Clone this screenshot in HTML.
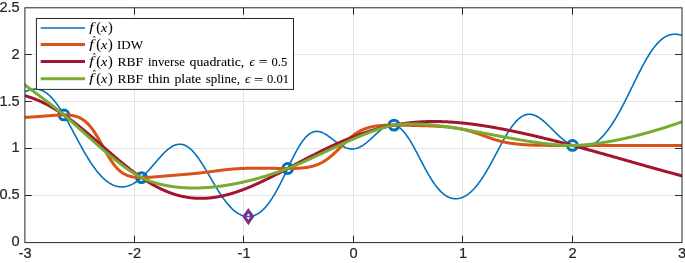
<!DOCTYPE html>
<html><head><meta charset="utf-8"><title>plot</title>
<style>html,body{margin:0;padding:0;background:#fff}svg{display:block}text{font-family:"Liberation Sans",sans-serif;font-size:29.2px;fill:#262626;stroke:#262626;stroke-width:.45px}.m{font-family:"Liberation Serif",serif;font-size:26px;fill:#000;stroke:#000;stroke-width:.12px}.i{font-style:italic}.e{font-size:24px;stroke:none}</style></head><body>
<svg width="685" height="263" viewBox="0 0 685 263">
<rect width="685" height="263" fill="#fff"/>
<path d="M134.5,7.8 V242.6 M243.5,7.8 V242.6 M353.5,7.8 V242.6 M462.5,7.8 V242.6 M572.5,7.8 V242.6 M24.9,195.5 H682.0 M24.9,148.5 H682.0 M24.9,101.5 H682.0 M24.9,54.5 H682.0" stroke="#E4E4E4" stroke-width="1" fill="none"/>
<clipPath id="c"><rect x="24.9" y="7.8" width="657.10" height="234.80"/></clipPath>
<g clip-path="url(#c)" fill="none" stroke-linejoin="round">
<path d="M22.71,92.83 L23.18,92.58 L23.66,92.33 L24.13,92.10 L24.60,91.86 L25.07,91.64 L25.55,91.42 L26.02,91.21 L26.49,91.01 L26.97,90.82 L27.44,90.64 L27.91,90.46 L28.38,90.29 L28.86,90.14 L29.33,89.99 L29.80,89.85 L30.27,89.72 L30.75,89.61 L31.22,89.50 L31.69,89.41 L32.17,89.32 L32.64,89.25 L33.11,89.19 L33.58,89.14 L34.06,89.10 L34.53,89.08 L35.00,89.07 L35.48,89.07 L35.95,89.08 L36.42,89.11 L36.89,89.15 L37.37,89.21 L37.84,89.27 L38.31,89.36 L38.79,89.45 L39.26,89.56 L39.73,89.69 L40.20,89.82 L40.68,89.98 L41.15,90.15 L41.62,90.33 L42.10,90.52 L42.57,90.74 L43.04,90.96 L43.51,91.20 L43.99,91.46 L44.46,91.73 L44.93,92.02 L45.41,92.32 L45.88,92.64 L46.35,92.97 L46.82,93.32 L47.30,93.68 L47.77,94.05 L48.24,94.45 L48.71,94.85 L49.19,95.27 L49.66,95.71 L50.13,96.16 L50.61,96.62 L51.08,97.10 L51.55,97.60 L52.02,98.10 L52.50,98.62 L52.97,99.16 L53.44,99.71 L53.92,100.27 L54.39,100.85 L54.86,101.44 L55.33,102.04 L55.81,102.65 L56.28,103.28 L56.75,103.92 L57.23,104.57 L57.70,105.24 L58.17,105.91 L58.64,106.60 L59.12,107.29 L59.59,108.00 L60.06,108.72 L60.54,109.45 L61.01,110.19 L61.48,110.94 L61.95,111.70 L62.43,112.47 L62.90,113.24 L63.37,114.03 L63.85,114.82 L64.32,115.62 L64.79,116.43 L65.26,117.24 L65.74,118.07 L66.21,118.89 L66.68,119.73 L67.16,120.57 L67.63,121.42 L68.10,122.27 L68.57,123.13 L69.05,123.99 L69.52,124.85 L69.99,125.72 L70.46,126.59 L70.94,127.47 L71.41,128.35 L71.88,129.23 L72.36,130.11 L72.83,130.99 L73.30,131.88 L73.77,132.76 L74.25,133.65 L74.72,134.54 L75.19,135.43 L75.67,136.31 L76.14,137.20 L76.61,138.08 L77.08,138.97 L77.56,139.85 L78.03,140.73 L78.50,141.61 L78.98,142.48 L79.45,143.35 L79.92,144.22 L80.39,145.09 L80.87,145.95 L81.34,146.81 L81.81,147.66 L82.29,148.51 L82.76,149.35 L83.23,150.19 L83.70,151.02 L84.18,151.85 L84.65,152.67 L85.12,153.48 L85.60,154.29 L86.07,155.09 L86.54,155.89 L87.01,156.67 L87.49,157.45 L87.96,158.23 L88.43,158.99 L88.91,159.75 L89.38,160.50 L89.85,161.24 L90.32,161.97 L90.80,162.69 L91.27,163.40 L91.74,164.11 L92.21,164.80 L92.69,165.49 L93.16,166.17 L93.63,166.84 L94.11,167.49 L94.58,168.14 L95.05,168.78 L95.52,169.41 L96.00,170.02 L96.47,170.63 L96.94,171.23 L97.42,171.82 L97.89,172.39 L98.36,172.96 L98.83,173.51 L99.31,174.06 L99.78,174.59 L100.25,175.11 L100.73,175.62 L101.20,176.13 L101.67,176.62 L102.14,177.09 L102.62,177.56 L103.09,178.02 L103.56,178.46 L104.04,178.90 L104.51,179.32 L104.98,179.73 L105.45,180.13 L105.93,180.52 L106.40,180.90 L106.87,181.26 L107.35,181.62 L107.82,181.96 L108.29,182.29 L108.76,182.61 L109.24,182.92 L109.71,183.22 L110.18,183.51 L110.65,183.78 L111.13,184.04 L111.60,184.30 L112.07,184.54 L112.55,184.76 L113.02,184.98 L113.49,185.19 L113.96,185.38 L114.44,185.57 L114.91,185.74 L115.38,185.90 L115.86,186.05 L116.33,186.19 L116.80,186.31 L117.27,186.43 L117.75,186.53 L118.22,186.62 L118.69,186.70 L119.17,186.77 L119.64,186.83 L120.11,186.88 L120.58,186.91 L121.06,186.94 L121.53,186.95 L122.00,186.95 L122.48,186.94 L122.95,186.92 L123.42,186.89 L123.89,186.84 L124.37,186.79 L124.84,186.72 L125.31,186.64 L125.79,186.55 L126.26,186.45 L126.73,186.34 L127.20,186.22 L127.68,186.09 L128.15,185.95 L128.62,185.79 L129.10,185.62 L129.57,185.45 L130.04,185.26 L130.51,185.06 L130.99,184.85 L131.46,184.63 L131.93,184.40 L132.40,184.16 L132.88,183.91 L133.35,183.65 L133.82,183.38 L134.30,183.09 L134.77,182.80 L135.24,182.50 L135.71,182.19 L136.19,181.86 L136.66,181.53 L137.13,181.19 L137.61,180.84 L138.08,180.48 L138.55,180.11 L139.02,179.73 L139.50,179.34 L139.97,178.94 L140.44,178.54 L140.92,178.13 L141.39,177.70 L141.86,177.27 L142.33,176.84 L142.81,176.39 L143.28,175.94 L143.75,175.47 L144.23,175.01 L144.70,174.53 L145.17,174.05 L145.64,173.56 L146.12,173.07 L146.59,172.57 L147.06,172.06 L147.54,171.55 L148.01,171.04 L148.48,170.52 L148.95,169.99 L149.43,169.46 L149.90,168.93 L150.37,168.39 L150.84,167.86 L151.32,167.31 L151.79,166.77 L152.26,166.22 L152.74,165.67 L153.21,165.12 L153.68,164.57 L154.15,164.02 L154.63,163.46 L155.10,162.91 L155.57,162.36 L156.05,161.81 L156.52,161.26 L156.99,160.71 L157.46,160.16 L157.94,159.62 L158.41,159.08 L158.88,158.54 L159.36,158.00 L159.83,157.47 L160.30,156.95 L160.77,156.43 L161.25,155.91 L161.72,155.40 L162.19,154.90 L162.67,154.40 L163.14,153.91 L163.61,153.43 L164.08,152.95 L164.56,152.49 L165.03,152.03 L165.50,151.58 L165.98,151.14 L166.45,150.71 L166.92,150.29 L167.39,149.88 L167.87,149.49 L168.34,149.10 L168.81,148.73 L169.29,148.37 L169.76,148.02 L170.23,147.68 L170.70,147.36 L171.18,147.06 L171.65,146.76 L172.12,146.48 L172.59,146.22 L173.07,145.97 L173.54,145.73 L174.01,145.51 L174.49,145.31 L174.96,145.13 L175.43,144.96 L175.90,144.80 L176.38,144.67 L176.85,144.55 L177.32,144.45 L177.80,144.36 L178.27,144.30 L178.74,144.25 L179.21,144.22 L179.69,144.21 L180.16,144.21 L180.63,144.24 L181.11,144.28 L181.58,144.34 L182.05,144.43 L182.52,144.53 L183.00,144.64 L183.47,144.78 L183.94,144.94 L184.42,145.11 L184.89,145.31 L185.36,145.52 L185.83,145.75 L186.31,146.00 L186.78,146.27 L187.25,146.56 L187.73,146.87 L188.20,147.19 L188.67,147.53 L189.14,147.89 L189.62,148.27 L190.09,148.67 L190.56,149.08 L191.03,149.51 L191.51,149.96 L191.98,150.42 L192.45,150.90 L192.93,151.40 L193.40,151.91 L193.87,152.44 L194.34,152.98 L194.82,153.54 L195.29,154.11 L195.76,154.70 L196.24,155.30 L196.71,155.91 L197.18,156.54 L197.65,157.18 L198.13,157.83 L198.60,158.49 L199.07,159.17 L199.55,159.86 L200.02,160.55 L200.49,161.26 L200.96,161.98 L201.44,162.70 L201.91,163.44 L202.38,164.18 L202.86,164.93 L203.33,165.69 L203.80,166.45 L204.27,167.23 L204.75,168.00 L205.22,168.79 L205.69,169.58 L206.17,170.37 L206.64,171.17 L207.11,171.97 L207.58,172.77 L208.06,173.58 L208.53,174.39 L209.00,175.20 L209.48,176.01 L209.95,176.82 L210.42,177.63 L210.89,178.44 L211.37,179.26 L211.84,180.07 L212.31,180.88 L212.78,181.68 L213.26,182.49 L213.73,183.29 L214.20,184.09 L214.68,184.88 L215.15,185.68 L215.62,186.46 L216.09,187.24 L216.57,188.02 L217.04,188.79 L217.51,189.56 L217.99,190.32 L218.46,191.07 L218.93,191.81 L219.40,192.55 L219.88,193.28 L220.35,194.00 L220.82,194.72 L221.30,195.42 L221.77,196.12 L222.24,196.81 L222.71,197.49 L223.19,198.16 L223.66,198.82 L224.13,199.47 L224.61,200.10 L225.08,200.73 L225.55,201.35 L226.02,201.96 L226.50,202.56 L226.97,203.14 L227.44,203.71 L227.92,204.28 L228.39,204.83 L228.86,205.37 L229.33,205.89 L229.81,206.41 L230.28,206.91 L230.75,207.40 L231.23,207.88 L231.70,208.35 L232.17,208.80 L232.64,209.25 L233.12,209.67 L233.59,210.09 L234.06,210.49 L234.53,210.89 L235.01,211.26 L235.48,211.63 L235.95,211.98 L236.43,212.32 L236.90,212.65 L237.37,212.96 L237.84,213.26 L238.32,213.55 L238.79,213.83 L239.26,214.09 L239.74,214.34 L240.21,214.57 L240.68,214.79 L241.15,215.00 L241.63,215.20 L242.10,215.38 L242.57,215.55 L243.05,215.71 L243.52,215.85 L243.99,215.98 L244.46,216.10 L244.94,216.20 L245.41,216.29 L245.88,216.37 L246.36,216.43 L246.83,216.48 L247.30,216.52 L247.77,216.54 L248.25,216.55 L248.72,216.54 L249.19,216.53 L249.67,216.50 L250.14,216.45 L250.61,216.39 L251.08,216.32 L251.56,216.23 L252.03,216.13 L252.50,216.02 L252.97,215.89 L253.45,215.75 L253.92,215.59 L254.39,215.42 L254.87,215.23 L255.34,215.03 L255.81,214.82 L256.28,214.59 L256.76,214.35 L257.23,214.09 L257.70,213.82 L258.18,213.53 L258.65,213.23 L259.12,212.91 L259.59,212.58 L260.07,212.23 L260.54,211.87 L261.01,211.50 L261.49,211.10 L261.96,210.70 L262.43,210.27 L262.90,209.84 L263.38,209.38 L263.85,208.92 L264.32,208.43 L264.80,207.93 L265.27,207.42 L265.74,206.89 L266.21,206.35 L266.69,205.79 L267.16,205.21 L267.63,204.62 L268.11,204.02 L268.58,203.40 L269.05,202.76 L269.52,202.11 L270.00,201.45 L270.47,200.77 L270.94,200.07 L271.42,199.37 L271.89,198.65 L272.36,197.91 L272.83,197.16 L273.31,196.40 L273.78,195.62 L274.25,194.83 L274.72,194.03 L275.20,193.22 L275.67,192.39 L276.14,191.55 L276.62,190.70 L277.09,189.84 L277.56,188.97 L278.03,188.09 L278.51,187.20 L278.98,186.29 L279.45,185.38 L279.93,184.46 L280.40,183.53 L280.87,182.60 L281.34,181.65 L281.82,180.70 L282.29,179.75 L282.76,178.78 L283.24,177.81 L283.71,176.84 L284.18,175.86 L284.65,174.88 L285.13,173.90 L285.60,172.91 L286.07,171.92 L286.55,170.93 L287.02,169.94 L287.49,168.95 L287.96,167.96 L288.44,166.97 L288.91,165.98 L289.38,165.00 L289.86,164.01 L290.33,163.04 L290.80,162.06 L291.27,161.10 L291.75,160.13 L292.22,159.18 L292.69,158.23 L293.16,157.29 L293.64,156.36 L294.11,155.43 L294.58,154.52 L295.06,153.62 L295.53,152.73 L296.00,151.85 L296.47,150.98 L296.95,150.12 L297.42,149.28 L297.89,148.46 L298.37,147.64 L298.84,146.85 L299.31,146.07 L299.78,145.30 L300.26,144.55 L300.73,143.82 L301.20,143.11 L301.68,142.42 L302.15,141.74 L302.62,141.08 L303.09,140.45 L303.57,139.83 L304.04,139.23 L304.51,138.66 L304.99,138.10 L305.46,137.57 L305.93,137.05 L306.40,136.56 L306.88,136.09 L307.35,135.65 L307.82,135.22 L308.30,134.82 L308.77,134.44 L309.24,134.08 L309.71,133.74 L310.19,133.43 L310.66,133.14 L311.13,132.87 L311.61,132.63 L312.08,132.41 L312.55,132.20 L313.02,132.03 L313.50,131.87 L313.97,131.73 L314.44,131.62 L314.91,131.53 L315.39,131.46 L315.86,131.41 L316.33,131.38 L316.81,131.37 L317.28,131.38 L317.75,131.41 L318.22,131.46 L318.70,131.52 L319.17,131.61 L319.64,131.71 L320.12,131.83 L320.59,131.97 L321.06,132.12 L321.53,132.29 L322.01,132.47 L322.48,132.67 L322.95,132.89 L323.43,133.11 L323.90,133.35 L324.37,133.60 L324.84,133.86 L325.32,134.14 L325.79,134.42 L326.26,134.72 L326.74,135.02 L327.21,135.33 L327.68,135.65 L328.15,135.98 L328.63,136.31 L329.10,136.65 L329.57,136.99 L330.05,137.34 L330.52,137.70 L330.99,138.05 L331.46,138.41 L331.94,138.77 L332.41,139.14 L332.88,139.50 L333.35,139.87 L333.83,140.23 L334.30,140.59 L334.77,140.96 L335.25,141.32 L335.72,141.67 L336.19,142.03 L336.66,142.38 L337.14,142.72 L337.61,143.06 L338.08,143.40 L338.56,143.73 L339.03,144.05 L339.50,144.36 L339.97,144.67 L340.45,144.97 L340.92,145.27 L341.39,145.55 L341.87,145.83 L342.34,146.09 L342.81,146.35 L343.28,146.59 L343.76,146.83 L344.23,147.05 L344.70,147.26 L345.18,147.46 L345.65,147.65 L346.12,147.83 L346.59,147.99 L347.07,148.15 L347.54,148.29 L348.01,148.41 L348.49,148.53 L348.96,148.63 L349.43,148.71 L349.90,148.78 L350.38,148.84 L350.85,148.89 L351.32,148.92 L351.80,148.93 L352.27,148.94 L352.74,148.92 L353.21,148.90 L353.69,148.86 L354.16,148.80 L354.63,148.73 L355.10,148.65 L355.58,148.55 L356.05,148.44 L356.52,148.32 L357.00,148.18 L357.47,148.02 L357.94,147.86 L358.41,147.67 L358.89,147.48 L359.36,147.27 L359.83,147.05 L360.31,146.82 L360.78,146.57 L361.25,146.31 L361.72,146.04 L362.20,145.76 L362.67,145.47 L363.14,145.16 L363.62,144.85 L364.09,144.52 L364.56,144.18 L365.03,143.84 L365.51,143.48 L365.98,143.12 L366.45,142.74 L366.93,142.36 L367.40,141.97 L367.87,141.57 L368.34,141.17 L368.82,140.76 L369.29,140.34 L369.76,139.92 L370.24,139.50 L370.71,139.07 L371.18,138.63 L371.65,138.19 L372.13,137.75 L372.60,137.31 L373.07,136.87 L373.55,136.42 L374.02,135.97 L374.49,135.53 L374.96,135.09 L375.44,134.64 L375.91,134.20 L376.38,133.76 L376.85,133.33 L377.33,132.90 L377.80,132.47 L378.27,132.05 L378.75,131.64 L379.22,131.23 L379.69,130.83 L380.16,130.44 L380.64,130.05 L381.11,129.68 L381.58,129.31 L382.06,128.96 L382.53,128.61 L383.00,128.28 L383.47,127.96 L383.95,127.65 L384.42,127.36 L384.89,127.08 L385.37,126.82 L385.84,126.57 L386.31,126.33 L386.78,126.11 L387.26,125.91 L387.73,125.73 L388.20,125.56 L388.68,125.42 L389.15,125.29 L389.62,125.18 L390.09,125.08 L390.57,125.01 L391.04,124.96 L391.51,124.93 L391.99,124.92 L392.46,124.93 L392.93,124.96 L393.40,125.02 L393.88,125.09 L394.35,125.19 L394.82,125.31 L395.29,125.45 L395.77,125.62 L396.24,125.80 L396.71,126.01 L397.19,126.24 L397.66,126.50 L398.13,126.77 L398.60,127.07 L399.08,127.40 L399.55,127.74 L400.02,128.11 L400.50,128.49 L400.97,128.90 L401.44,129.34 L401.91,129.79 L402.39,130.26 L402.86,130.76 L403.33,131.27 L403.81,131.81 L404.28,132.37 L404.75,132.94 L405.22,133.54 L405.70,134.15 L406.17,134.78 L406.64,135.43 L407.12,136.10 L407.59,136.78 L408.06,137.48 L408.53,138.20 L409.01,138.93 L409.48,139.67 L409.95,140.43 L410.43,141.21 L410.90,141.99 L411.37,142.79 L411.84,143.60 L412.32,144.42 L412.79,145.26 L413.26,146.10 L413.74,146.95 L414.21,147.81 L414.68,148.68 L415.15,149.55 L415.63,150.43 L416.10,151.32 L416.57,152.21 L417.04,153.11 L417.52,154.01 L417.99,154.91 L418.46,155.82 L418.94,156.73 L419.41,157.64 L419.88,158.55 L420.35,159.46 L420.83,160.36 L421.30,161.27 L421.77,162.18 L422.25,163.08 L422.72,163.98 L423.19,164.88 L423.66,165.77 L424.14,166.66 L424.61,167.54 L425.08,168.42 L425.56,169.29 L426.03,170.15 L426.50,171.01 L426.97,171.85 L427.45,172.69 L427.92,173.52 L428.39,174.34 L428.87,175.15 L429.34,175.96 L429.81,176.75 L430.28,177.53 L430.76,178.29 L431.23,179.05 L431.70,179.80 L432.18,180.53 L432.65,181.25 L433.12,181.96 L433.59,182.65 L434.07,183.33 L434.54,184.00 L435.01,184.66 L435.48,185.30 L435.96,185.92 L436.43,186.54 L436.90,187.13 L437.38,187.72 L437.85,188.28 L438.32,188.84 L438.79,189.38 L439.27,189.90 L439.74,190.41 L440.21,190.90 L440.69,191.38 L441.16,191.85 L441.63,192.29 L442.10,192.73 L442.58,193.14 L443.05,193.55 L443.52,193.93 L444.00,194.31 L444.47,194.66 L444.94,195.00 L445.41,195.33 L445.89,195.64 L446.36,195.94 L446.83,196.22 L447.31,196.48 L447.78,196.73 L448.25,196.97 L448.72,197.19 L449.20,197.40 L449.67,197.59 L450.14,197.76 L450.62,197.93 L451.09,198.07 L451.56,198.21 L452.03,198.32 L452.51,198.43 L452.98,198.52 L453.45,198.59 L453.93,198.66 L454.40,198.70 L454.87,198.74 L455.34,198.76 L455.82,198.76 L456.29,198.75 L456.76,198.73 L457.23,198.69 L457.71,198.64 L458.18,198.58 L458.65,198.50 L459.13,198.41 L459.60,198.31 L460.07,198.19 L460.54,198.06 L461.02,197.92 L461.49,197.76 L461.96,197.59 L462.44,197.40 L462.91,197.21 L463.38,196.99 L463.85,196.77 L464.33,196.53 L464.80,196.28 L465.27,196.02 L465.75,195.74 L466.22,195.45 L466.69,195.15 L467.16,194.83 L467.64,194.50 L468.11,194.16 L468.58,193.80 L469.06,193.43 L469.53,193.05 L470.00,192.66 L470.47,192.25 L470.95,191.83 L471.42,191.40 L471.89,190.95 L472.37,190.49 L472.84,190.02 L473.31,189.53 L473.78,189.04 L474.26,188.53 L474.73,188.00 L475.20,187.47 L475.67,186.92 L476.15,186.36 L476.62,185.79 L477.09,185.20 L477.57,184.61 L478.04,184.00 L478.51,183.38 L478.98,182.75 L479.46,182.10 L479.93,181.45 L480.40,180.78 L480.88,180.10 L481.35,179.41 L481.82,178.72 L482.29,178.01 L482.77,177.29 L483.24,176.55 L483.71,175.81 L484.19,175.06 L484.66,174.30 L485.13,173.54 L485.60,172.76 L486.08,171.97 L486.55,171.17 L487.02,170.37 L487.50,169.56 L487.97,168.74 L488.44,167.91 L488.91,167.08 L489.39,166.24 L489.86,165.39 L490.33,164.54 L490.81,163.68 L491.28,162.82 L491.75,161.95 L492.22,161.08 L492.70,160.21 L493.17,159.33 L493.64,158.44 L494.12,157.56 L494.59,156.67 L495.06,155.78 L495.53,154.89 L496.01,153.99 L496.48,153.10 L496.95,152.21 L497.42,151.31 L497.90,150.42 L498.37,149.53 L498.84,148.64 L499.32,147.75 L499.79,146.87 L500.26,145.98 L500.73,145.11 L501.21,144.23 L501.68,143.36 L502.15,142.50 L502.63,141.64 L503.10,140.79 L503.57,139.94 L504.04,139.10 L504.52,138.27 L504.99,137.44 L505.46,136.63 L505.94,135.82 L506.41,135.02 L506.88,134.24 L507.35,133.46 L507.83,132.69 L508.30,131.93 L508.77,131.19 L509.25,130.46 L509.72,129.74 L510.19,129.03 L510.66,128.33 L511.14,127.65 L511.61,126.98 L512.08,126.33 L512.56,125.69 L513.03,125.07 L513.50,124.46 L513.97,123.87 L514.45,123.29 L514.92,122.73 L515.39,122.18 L515.87,121.65 L516.34,121.14 L516.81,120.65 L517.28,120.17 L517.76,119.71 L518.23,119.27 L518.70,118.85 L519.17,118.44 L519.65,118.06 L520.12,117.69 L520.59,117.34 L521.07,117.00 L521.54,116.69 L522.01,116.40 L522.48,116.12 L522.96,115.87 L523.43,115.63 L523.90,115.41 L524.38,115.21 L524.85,115.03 L525.32,114.87 L525.79,114.72 L526.27,114.60 L526.74,114.49 L527.21,114.40 L527.69,114.33 L528.16,114.28 L528.63,114.25 L529.10,114.23 L529.58,114.24 L530.05,114.26 L530.52,114.30 L531.00,114.35 L531.47,114.42 L531.94,114.51 L532.41,114.62 L532.89,114.74 L533.36,114.88 L533.83,115.03 L534.31,115.20 L534.78,115.38 L535.25,115.58 L535.72,115.79 L536.20,116.02 L536.67,116.26 L537.14,116.51 L537.61,116.78 L538.09,117.06 L538.56,117.35 L539.03,117.66 L539.51,117.97 L539.98,118.30 L540.45,118.64 L540.92,118.99 L541.40,119.34 L541.87,119.71 L542.34,120.09 L542.82,120.47 L543.29,120.87 L543.76,121.27 L544.23,121.68 L544.71,122.09 L545.18,122.52 L545.65,122.94 L546.13,123.38 L546.60,123.82 L547.07,124.26 L547.54,124.71 L548.02,125.17 L548.49,125.62 L548.96,126.08 L549.44,126.55 L549.91,127.01 L550.38,127.48 L550.85,127.95 L551.33,128.42 L551.80,128.89 L552.27,129.36 L552.75,129.83 L553.22,130.31 L553.69,130.78 L554.16,131.25 L554.64,131.71 L555.11,132.18 L555.58,132.64 L556.06,133.10 L556.53,133.56 L557.00,134.02 L557.47,134.47 L557.95,134.92 L558.42,135.36 L558.89,135.80 L559.36,136.24 L559.84,136.67 L560.31,137.09 L560.78,137.51 L561.26,137.92 L561.73,138.33 L562.20,138.73 L562.67,139.12 L563.15,139.51 L563.62,139.89 L564.09,140.26 L564.57,140.63 L565.04,140.98 L565.51,141.33 L565.98,141.67 L566.46,142.01 L566.93,142.33 L567.40,142.65 L567.88,142.95 L568.35,143.25 L568.82,143.54 L569.29,143.82 L569.77,144.09 L570.24,144.35 L570.71,144.60 L571.19,144.84 L571.66,145.07 L572.13,145.29 L572.60,145.51 L573.08,145.71 L573.55,145.90 L574.02,146.08 L574.50,146.25 L574.97,146.41 L575.44,146.56 L575.91,146.70 L576.39,146.82 L576.86,146.94 L577.33,147.05 L577.80,147.14 L578.28,147.23 L578.75,147.30 L579.22,147.36 L579.70,147.42 L580.17,147.46 L580.64,147.49 L581.11,147.51 L581.59,147.51 L582.06,147.51 L582.53,147.49 L583.01,147.47 L583.48,147.43 L583.95,147.38 L584.42,147.32 L584.90,147.25 L585.37,147.17 L585.84,147.08 L586.32,146.97 L586.79,146.85 L587.26,146.73 L587.73,146.59 L588.21,146.44 L588.68,146.28 L589.15,146.10 L589.63,145.92 L590.10,145.72 L590.57,145.51 L591.04,145.30 L591.52,145.07 L591.99,144.82 L592.46,144.57 L592.94,144.31 L593.41,144.03 L593.88,143.74 L594.35,143.45 L594.83,143.14 L595.30,142.81 L595.77,142.48 L596.25,142.14 L596.72,141.78 L597.19,141.41 L597.66,141.03 L598.14,140.64 L598.61,140.24 L599.08,139.83 L599.55,139.41 L600.03,138.97 L600.50,138.52 L600.97,138.06 L601.45,137.59 L601.92,137.11 L602.39,136.62 L602.86,136.12 L603.34,135.60 L603.81,135.08 L604.28,134.54 L604.76,133.99 L605.23,133.43 L605.70,132.86 L606.17,132.28 L606.65,131.69 L607.12,131.08 L607.59,130.47 L608.07,129.84 L608.54,129.21 L609.01,128.56 L609.48,127.90 L609.96,127.23 L610.43,126.56 L610.90,125.87 L611.38,125.17 L611.85,124.46 L612.32,123.74 L612.79,123.01 L613.27,122.27 L613.74,121.52 L614.21,120.77 L614.69,120.00 L615.16,119.22 L615.63,118.44 L616.10,117.64 L616.58,116.84 L617.05,116.02 L617.52,115.20 L617.99,114.37 L618.47,113.54 L618.94,112.69 L619.41,111.84 L619.89,110.98 L620.36,110.11 L620.83,109.23 L621.30,108.35 L621.78,107.46 L622.25,106.56 L622.72,105.66 L623.20,104.76 L623.67,103.84 L624.14,102.92 L624.61,102.00 L625.09,101.07 L625.56,100.13 L626.03,99.20 L626.51,98.25 L626.98,97.31 L627.45,96.36 L627.92,95.40 L628.40,94.45 L628.87,93.49 L629.34,92.53 L629.82,91.57 L630.29,90.60 L630.76,89.63 L631.23,88.67 L631.71,87.70 L632.18,86.73 L632.65,85.76 L633.13,84.79 L633.60,83.83 L634.07,82.86 L634.54,81.90 L635.02,80.93 L635.49,79.97 L635.96,79.01 L636.44,78.06 L636.91,77.10 L637.38,76.15 L637.85,75.21 L638.33,74.26 L638.80,73.33 L639.27,72.39 L639.74,71.47 L640.22,70.54 L640.69,69.63 L641.16,68.72 L641.64,67.81 L642.11,66.92 L642.58,66.03 L643.05,65.15 L643.53,64.27 L644.00,63.41 L644.47,62.55 L644.95,61.70 L645.42,60.86 L645.89,60.03 L646.36,59.21 L646.84,58.40 L647.31,57.60 L647.78,56.81 L648.26,56.03 L648.73,55.27 L649.20,54.51 L649.67,53.76 L650.15,53.03 L650.62,52.31 L651.09,51.60 L651.57,50.91 L652.04,50.22 L652.51,49.55 L652.98,48.90 L653.46,48.25 L653.93,47.62 L654.40,47.01 L654.88,46.40 L655.35,45.82 L655.82,45.24 L656.29,44.68 L656.77,44.13 L657.24,43.60 L657.71,43.09 L658.19,42.58 L658.66,42.10 L659.13,41.62 L659.60,41.17 L660.08,40.72 L660.55,40.30 L661.02,39.88 L661.49,39.49 L661.97,39.10 L662.44,38.74 L662.91,38.38 L663.39,38.05 L663.86,37.72 L664.33,37.41 L664.80,37.12 L665.28,36.84 L665.75,36.58 L666.22,36.33 L666.70,36.10 L667.17,35.88 L667.64,35.67 L668.11,35.48 L668.59,35.31 L669.06,35.14 L669.53,34.99 L670.01,34.86 L670.48,34.74 L670.95,34.63 L671.42,34.53 L671.90,34.45 L672.37,34.38 L672.84,34.32 L673.32,34.28 L673.79,34.25 L674.26,34.23 L674.73,34.22 L675.21,34.22 L675.68,34.23 L676.15,34.26 L676.63,34.29 L677.10,34.34 L677.57,34.40 L678.04,34.46 L678.52,34.54 L678.99,34.62 L679.46,34.72 L679.93,34.82 L680.41,34.93 L680.88,35.05 L681.35,35.18 L681.83,35.32 L682.30,35.46 L682.77,35.61 L683.24,35.77 L683.72,35.93 L684.19,36.10" stroke="#0072BD" stroke-width="1.6"/>
<circle cx="63.90" cy="114.91" r="4.9" stroke="#0072BD" stroke-width="3"/>
<circle cx="141.50" cy="177.60" r="4.9" stroke="#0072BD" stroke-width="3"/>
<circle cx="287.70" cy="168.51" r="4.9" stroke="#0072BD" stroke-width="3"/>
<circle cx="394.00" cy="125.12" r="4.9" stroke="#0072BD" stroke-width="3"/>
<circle cx="572.50" cy="145.46" r="4.9" stroke="#0072BD" stroke-width="3"/>
<path d="M248.34,210.65 L252.44,216.55 L248.34,222.45 L244.24,216.55 Z" stroke="#7E2F8E" stroke-width="3.1" stroke-linejoin="miter"/>
<path d="M22.71,117.48 L23.18,117.46 L23.66,117.44 L24.13,117.42 L24.60,117.39 L25.07,117.37 L25.55,117.34 L26.02,117.32 L26.49,117.30 L26.97,117.27 L27.44,117.24 L27.91,117.22 L28.38,117.19 L28.86,117.16 L29.33,117.14 L29.80,117.11 L30.27,117.08 L30.75,117.05 L31.22,117.02 L31.69,117.00 L32.17,116.97 L32.64,116.94 L33.11,116.91 L33.58,116.87 L34.06,116.84 L34.53,116.81 L35.00,116.78 L35.48,116.75 L35.95,116.71 L36.42,116.68 L36.89,116.65 L37.37,116.61 L37.84,116.58 L38.31,116.55 L38.79,116.51 L39.26,116.48 L39.73,116.44 L40.20,116.41 L40.68,116.37 L41.15,116.33 L41.62,116.30 L42.10,116.26 L42.57,116.22 L43.04,116.19 L43.51,116.15 L43.99,116.11 L44.46,116.08 L44.93,116.04 L45.41,116.00 L45.88,115.96 L46.35,115.93 L46.82,115.89 L47.30,115.85 L47.77,115.81 L48.24,115.77 L48.71,115.74 L49.19,115.70 L49.66,115.66 L50.13,115.63 L50.61,115.59 L51.08,115.55 L51.55,115.52 L52.02,115.48 L52.50,115.45 L52.97,115.41 L53.44,115.38 L53.92,115.34 L54.39,115.31 L54.86,115.28 L55.33,115.25 L55.81,115.22 L56.28,115.19 L56.75,115.16 L57.23,115.13 L57.70,115.10 L58.17,115.08 L58.64,115.05 L59.12,115.03 L59.59,115.01 L60.06,114.99 L60.54,114.97 L61.01,114.96 L61.48,114.94 L61.95,114.93 L62.43,114.92 L62.90,114.92 L63.37,114.91 L63.85,114.91 L64.32,114.91 L64.79,114.92 L65.26,114.92 L65.74,114.93 L66.21,114.95 L66.68,114.97 L67.16,114.99 L67.63,115.01 L68.10,115.04 L68.57,115.08 L69.05,115.12 L69.52,115.16 L69.99,115.21 L70.46,115.26 L70.94,115.32 L71.41,115.39 L71.88,115.46 L72.36,115.54 L72.83,115.62 L73.30,115.72 L73.77,115.82 L74.25,115.92 L74.72,116.04 L75.19,116.16 L75.67,116.30 L76.14,116.44 L76.61,116.59 L77.08,116.75 L77.56,116.92 L78.03,117.10 L78.50,117.29 L78.98,117.49 L79.45,117.70 L79.92,117.93 L80.39,118.17 L80.87,118.41 L81.34,118.68 L81.81,118.95 L82.29,119.24 L82.76,119.55 L83.23,119.86 L83.70,120.20 L84.18,120.54 L84.65,120.91 L85.12,121.29 L85.60,121.68 L86.07,122.09 L86.54,122.52 L87.01,122.96 L87.49,123.42 L87.96,123.90 L88.43,124.39 L88.91,124.90 L89.38,125.43 L89.85,125.98 L90.32,126.54 L90.80,127.12 L91.27,127.72 L91.74,128.33 L92.21,128.96 L92.69,129.61 L93.16,130.28 L93.63,130.96 L94.11,131.65 L94.58,132.37 L95.05,133.09 L95.52,133.83 L96.00,134.59 L96.47,135.35 L96.94,136.13 L97.42,136.92 L97.89,137.72 L98.36,138.54 L98.83,139.36 L99.31,140.19 L99.78,141.02 L100.25,141.86 L100.73,142.71 L101.20,143.57 L101.67,144.42 L102.14,145.28 L102.62,146.14 L103.09,147.00 L103.56,147.85 L104.04,148.71 L104.51,149.56 L104.98,150.41 L105.45,151.26 L105.93,152.09 L106.40,152.93 L106.87,153.75 L107.35,154.56 L107.82,155.37 L108.29,156.16 L108.76,156.94 L109.24,157.71 L109.71,158.47 L110.18,159.21 L110.65,159.94 L111.13,160.66 L111.60,161.36 L112.07,162.04 L112.55,162.71 L113.02,163.36 L113.49,164.00 L113.96,164.61 L114.44,165.22 L114.91,165.80 L115.38,166.37 L115.86,166.92 L116.33,167.45 L116.80,167.97 L117.27,168.47 L117.75,168.95 L118.22,169.41 L118.69,169.86 L119.17,170.29 L119.64,170.70 L120.11,171.10 L120.58,171.49 L121.06,171.85 L121.53,172.20 L122.00,172.54 L122.48,172.86 L122.95,173.17 L123.42,173.46 L123.89,173.74 L124.37,174.01 L124.84,174.26 L125.31,174.51 L125.79,174.73 L126.26,174.95 L126.73,175.16 L127.20,175.35 L127.68,175.53 L128.15,175.71 L128.62,175.87 L129.10,176.02 L129.57,176.17 L130.04,176.30 L130.51,176.43 L130.99,176.55 L131.46,176.66 L131.93,176.76 L132.40,176.86 L132.88,176.94 L133.35,177.02 L133.82,177.10 L134.30,177.17 L134.77,177.23 L135.24,177.29 L135.71,177.34 L136.19,177.38 L136.66,177.42 L137.13,177.46 L137.61,177.49 L138.08,177.52 L138.55,177.54 L139.02,177.56 L139.50,177.58 L139.97,177.59 L140.44,177.60 L140.92,177.60 L141.39,177.60 L141.86,177.60 L142.33,177.60 L142.81,177.59 L143.28,177.58 L143.75,177.57 L144.23,177.56 L144.70,177.54 L145.17,177.53 L145.64,177.51 L146.12,177.49 L146.59,177.47 L147.06,177.44 L147.54,177.42 L148.01,177.39 L148.48,177.36 L148.95,177.33 L149.43,177.30 L149.90,177.27 L150.37,177.24 L150.84,177.21 L151.32,177.17 L151.79,177.14 L152.26,177.10 L152.74,177.07 L153.21,177.03 L153.68,176.99 L154.15,176.96 L154.63,176.92 L155.10,176.88 L155.57,176.84 L156.05,176.80 L156.52,176.76 L156.99,176.72 L157.46,176.68 L157.94,176.64 L158.41,176.60 L158.88,176.56 L159.36,176.52 L159.83,176.48 L160.30,176.44 L160.77,176.40 L161.25,176.36 L161.72,176.32 L162.19,176.28 L162.67,176.24 L163.14,176.20 L163.61,176.16 L164.08,176.12 L164.56,176.08 L165.03,176.04 L165.50,176.00 L165.98,175.96 L166.45,175.91 L166.92,175.87 L167.39,175.83 L167.87,175.79 L168.34,175.75 L168.81,175.71 L169.29,175.68 L169.76,175.64 L170.23,175.60 L170.70,175.56 L171.18,175.52 L171.65,175.48 L172.12,175.44 L172.59,175.40 L173.07,175.36 L173.54,175.32 L174.01,175.28 L174.49,175.25 L174.96,175.21 L175.43,175.17 L175.90,175.13 L176.38,175.09 L176.85,175.05 L177.32,175.01 L177.80,174.98 L178.27,174.94 L178.74,174.90 L179.21,174.86 L179.69,174.82 L180.16,174.78 L180.63,174.74 L181.11,174.70 L181.58,174.67 L182.05,174.63 L182.52,174.59 L183.00,174.55 L183.47,174.51 L183.94,174.47 L184.42,174.43 L184.89,174.39 L185.36,174.35 L185.83,174.31 L186.31,174.27 L186.78,174.23 L187.25,174.19 L187.73,174.15 L188.20,174.10 L188.67,174.06 L189.14,174.02 L189.62,173.98 L190.09,173.93 L190.56,173.89 L191.03,173.85 L191.51,173.80 L191.98,173.76 L192.45,173.71 L192.93,173.67 L193.40,173.62 L193.87,173.58 L194.34,173.53 L194.82,173.48 L195.29,173.43 L195.76,173.39 L196.24,173.34 L196.71,173.29 L197.18,173.24 L197.65,173.19 L198.13,173.14 L198.60,173.09 L199.07,173.03 L199.55,172.98 L200.02,172.93 L200.49,172.88 L200.96,172.82 L201.44,172.77 L201.91,172.71 L202.38,172.66 L202.86,172.60 L203.33,172.54 L203.80,172.49 L204.27,172.43 L204.75,172.37 L205.22,172.31 L205.69,172.25 L206.17,172.20 L206.64,172.14 L207.11,172.08 L207.58,172.02 L208.06,171.96 L208.53,171.89 L209.00,171.83 L209.48,171.77 L209.95,171.71 L210.42,171.65 L210.89,171.59 L211.37,171.52 L211.84,171.46 L212.31,171.40 L212.78,171.34 L213.26,171.27 L213.73,171.21 L214.20,171.15 L214.68,171.09 L215.15,171.02 L215.62,170.96 L216.09,170.90 L216.57,170.84 L217.04,170.78 L217.51,170.71 L217.99,170.65 L218.46,170.59 L218.93,170.53 L219.40,170.47 L219.88,170.41 L220.35,170.35 L220.82,170.30 L221.30,170.24 L221.77,170.18 L222.24,170.12 L222.71,170.07 L223.19,170.01 L223.66,169.96 L224.13,169.90 L224.61,169.85 L225.08,169.80 L225.55,169.75 L226.02,169.70 L226.50,169.65 L226.97,169.60 L227.44,169.55 L227.92,169.50 L228.39,169.45 L228.86,169.41 L229.33,169.36 L229.81,169.32 L230.28,169.27 L230.75,169.23 L231.23,169.19 L231.70,169.15 L232.17,169.11 L232.64,169.07 L233.12,169.03 L233.59,169.00 L234.06,168.96 L234.53,168.93 L235.01,168.89 L235.48,168.86 L235.95,168.83 L236.43,168.80 L236.90,168.77 L237.37,168.74 L237.84,168.71 L238.32,168.68 L238.79,168.66 L239.26,168.63 L239.74,168.60 L240.21,168.58 L240.68,168.56 L241.15,168.54 L241.63,168.51 L242.10,168.49 L242.57,168.47 L243.05,168.45 L243.52,168.44 L243.99,168.42 L244.46,168.40 L244.94,168.39 L245.41,168.37 L245.88,168.36 L246.36,168.34 L246.83,168.33 L247.30,168.32 L247.77,168.30 L248.25,168.29 L248.72,168.28 L249.19,168.27 L249.67,168.26 L250.14,168.26 L250.61,168.25 L251.08,168.24 L251.56,168.23 L252.03,168.23 L252.50,168.22 L252.97,168.22 L253.45,168.21 L253.92,168.21 L254.39,168.20 L254.87,168.20 L255.34,168.20 L255.81,168.20 L256.28,168.19 L256.76,168.19 L257.23,168.19 L257.70,168.19 L258.18,168.19 L258.65,168.19 L259.12,168.19 L259.59,168.19 L260.07,168.20 L260.54,168.20 L261.01,168.20 L261.49,168.20 L261.96,168.21 L262.43,168.21 L262.90,168.21 L263.38,168.22 L263.85,168.22 L264.32,168.22 L264.80,168.23 L265.27,168.23 L265.74,168.24 L266.21,168.24 L266.69,168.25 L267.16,168.26 L267.63,168.26 L268.11,168.27 L268.58,168.27 L269.05,168.28 L269.52,168.29 L270.00,168.29 L270.47,168.30 L270.94,168.31 L271.42,168.31 L271.89,168.32 L272.36,168.33 L272.83,168.34 L273.31,168.34 L273.78,168.35 L274.25,168.36 L274.72,168.37 L275.20,168.37 L275.67,168.38 L276.14,168.39 L276.62,168.40 L277.09,168.40 L277.56,168.41 L278.03,168.42 L278.51,168.43 L278.98,168.43 L279.45,168.44 L279.93,168.45 L280.40,168.45 L280.87,168.46 L281.34,168.47 L281.82,168.47 L282.29,168.48 L282.76,168.48 L283.24,168.49 L283.71,168.49 L284.18,168.49 L284.65,168.50 L285.13,168.50 L285.60,168.50 L286.07,168.51 L286.55,168.51 L287.02,168.51 L287.49,168.51 L287.96,168.51 L288.44,168.51 L288.91,168.51 L289.38,168.51 L289.86,168.50 L290.33,168.50 L290.80,168.49 L291.27,168.49 L291.75,168.48 L292.22,168.48 L292.69,168.47 L293.16,168.46 L293.64,168.45 L294.11,168.43 L294.58,168.42 L295.06,168.41 L295.53,168.39 L296.00,168.37 L296.47,168.35 L296.95,168.33 L297.42,168.31 L297.89,168.29 L298.37,168.26 L298.84,168.23 L299.31,168.21 L299.78,168.17 L300.26,168.14 L300.73,168.10 L301.20,168.07 L301.68,168.03 L302.15,167.98 L302.62,167.94 L303.09,167.89 L303.57,167.84 L304.04,167.79 L304.51,167.73 L304.99,167.67 L305.46,167.61 L305.93,167.54 L306.40,167.47 L306.88,167.40 L307.35,167.32 L307.82,167.24 L308.30,167.16 L308.77,167.07 L309.24,166.98 L309.71,166.88 L310.19,166.78 L310.66,166.68 L311.13,166.57 L311.61,166.46 L312.08,166.34 L312.55,166.21 L313.02,166.08 L313.50,165.95 L313.97,165.81 L314.44,165.66 L314.91,165.51 L315.39,165.35 L315.86,165.19 L316.33,165.02 L316.81,164.85 L317.28,164.66 L317.75,164.48 L318.22,164.28 L318.70,164.08 L319.17,163.87 L319.64,163.66 L320.12,163.43 L320.59,163.20 L321.06,162.97 L321.53,162.72 L322.01,162.47 L322.48,162.21 L322.95,161.94 L323.43,161.67 L323.90,161.39 L324.37,161.10 L324.84,160.80 L325.32,160.49 L325.79,160.18 L326.26,159.86 L326.74,159.53 L327.21,159.19 L327.68,158.85 L328.15,158.50 L328.63,158.14 L329.10,157.77 L329.57,157.40 L330.05,157.02 L330.52,156.63 L330.99,156.23 L331.46,155.83 L331.94,155.42 L332.41,155.01 L332.88,154.59 L333.35,154.16 L333.83,153.73 L334.30,153.29 L334.77,152.85 L335.25,152.40 L335.72,151.95 L336.19,151.50 L336.66,151.04 L337.14,150.57 L337.61,150.11 L338.08,149.64 L338.56,149.17 L339.03,148.69 L339.50,148.22 L339.97,147.74 L340.45,147.27 L340.92,146.79 L341.39,146.31 L341.87,145.84 L342.34,145.36 L342.81,144.89 L343.28,144.41 L343.76,143.94 L344.23,143.48 L344.70,143.01 L345.18,142.55 L345.65,142.09 L346.12,141.63 L346.59,141.18 L347.07,140.73 L347.54,140.29 L348.01,139.86 L348.49,139.42 L348.96,139.00 L349.43,138.58 L349.90,138.16 L350.38,137.76 L350.85,137.36 L351.32,136.96 L351.80,136.57 L352.27,136.19 L352.74,135.82 L353.21,135.46 L353.69,135.10 L354.16,134.75 L354.63,134.40 L355.10,134.07 L355.58,133.74 L356.05,133.42 L356.52,133.11 L357.00,132.80 L357.47,132.51 L357.94,132.22 L358.41,131.94 L358.89,131.66 L359.36,131.40 L359.83,131.14 L360.31,130.89 L360.78,130.64 L361.25,130.41 L361.72,130.18 L362.20,129.96 L362.67,129.74 L363.14,129.53 L363.62,129.33 L364.09,129.14 L364.56,128.95 L365.03,128.77 L365.51,128.60 L365.98,128.43 L366.45,128.26 L366.93,128.11 L367.40,127.96 L367.87,127.81 L368.34,127.67 L368.82,127.54 L369.29,127.41 L369.76,127.29 L370.24,127.17 L370.71,127.05 L371.18,126.94 L371.65,126.84 L372.13,126.74 L372.60,126.64 L373.07,126.55 L373.55,126.47 L374.02,126.38 L374.49,126.30 L374.96,126.23 L375.44,126.15 L375.91,126.08 L376.38,126.02 L376.85,125.96 L377.33,125.90 L377.80,125.84 L378.27,125.79 L378.75,125.74 L379.22,125.69 L379.69,125.64 L380.16,125.60 L380.64,125.56 L381.11,125.52 L381.58,125.49 L382.06,125.45 L382.53,125.42 L383.00,125.39 L383.47,125.36 L383.95,125.34 L384.42,125.31 L384.89,125.29 L385.37,125.27 L385.84,125.25 L386.31,125.24 L386.78,125.22 L387.26,125.20 L387.73,125.19 L388.20,125.18 L388.68,125.17 L389.15,125.16 L389.62,125.15 L390.09,125.14 L390.57,125.14 L391.04,125.13 L391.51,125.13 L391.99,125.12 L392.46,125.12 L392.93,125.12 L393.40,125.12 L393.88,125.12 L394.35,125.12 L394.82,125.12 L395.29,125.12 L395.77,125.12 L396.24,125.12 L396.71,125.13 L397.19,125.13 L397.66,125.13 L398.13,125.14 L398.60,125.14 L399.08,125.15 L399.55,125.16 L400.02,125.16 L400.50,125.17 L400.97,125.18 L401.44,125.18 L401.91,125.19 L402.39,125.20 L402.86,125.21 L403.33,125.21 L403.81,125.22 L404.28,125.23 L404.75,125.24 L405.22,125.25 L405.70,125.26 L406.17,125.27 L406.64,125.28 L407.12,125.29 L407.59,125.30 L408.06,125.31 L408.53,125.32 L409.01,125.33 L409.48,125.34 L409.95,125.35 L410.43,125.36 L410.90,125.38 L411.37,125.39 L411.84,125.40 L412.32,125.41 L412.79,125.42 L413.26,125.43 L413.74,125.45 L414.21,125.46 L414.68,125.47 L415.15,125.48 L415.63,125.49 L416.10,125.51 L416.57,125.52 L417.04,125.53 L417.52,125.54 L417.99,125.56 L418.46,125.57 L418.94,125.58 L419.41,125.60 L419.88,125.61 L420.35,125.62 L420.83,125.63 L421.30,125.65 L421.77,125.66 L422.25,125.68 L422.72,125.69 L423.19,125.70 L423.66,125.72 L424.14,125.73 L424.61,125.75 L425.08,125.76 L425.56,125.78 L426.03,125.79 L426.50,125.81 L426.97,125.83 L427.45,125.84 L427.92,125.86 L428.39,125.87 L428.87,125.89 L429.34,125.91 L429.81,125.93 L430.28,125.94 L430.76,125.96 L431.23,125.98 L431.70,126.00 L432.18,126.02 L432.65,126.04 L433.12,126.06 L433.59,126.08 L434.07,126.10 L434.54,126.12 L435.01,126.14 L435.48,126.17 L435.96,126.19 L436.43,126.21 L436.90,126.24 L437.38,126.26 L437.85,126.29 L438.32,126.31 L438.79,126.34 L439.27,126.37 L439.74,126.40 L440.21,126.43 L440.69,126.46 L441.16,126.49 L441.63,126.52 L442.10,126.55 L442.58,126.58 L443.05,126.62 L443.52,126.65 L444.00,126.69 L444.47,126.72 L444.94,126.76 L445.41,126.80 L445.89,126.84 L446.36,126.88 L446.83,126.93 L447.31,126.97 L447.78,127.01 L448.25,127.06 L448.72,127.11 L449.20,127.16 L449.67,127.21 L450.14,127.26 L450.62,127.31 L451.09,127.36 L451.56,127.42 L452.03,127.48 L452.51,127.54 L452.98,127.60 L453.45,127.66 L453.93,127.72 L454.40,127.79 L454.87,127.86 L455.34,127.93 L455.82,128.00 L456.29,128.07 L456.76,128.14 L457.23,128.22 L457.71,128.30 L458.18,128.38 L458.65,128.46 L459.13,128.55 L459.60,128.63 L460.07,128.72 L460.54,128.81 L461.02,128.91 L461.49,129.00 L461.96,129.10 L462.44,129.20 L462.91,129.30 L463.38,129.40 L463.85,129.51 L464.33,129.62 L464.80,129.73 L465.27,129.84 L465.75,129.96 L466.22,130.08 L466.69,130.20 L467.16,130.32 L467.64,130.44 L468.11,130.57 L468.58,130.70 L469.06,130.83 L469.53,130.96 L470.00,131.10 L470.47,131.24 L470.95,131.38 L471.42,131.52 L471.89,131.66 L472.37,131.81 L472.84,131.95 L473.31,132.10 L473.78,132.26 L474.26,132.41 L474.73,132.56 L475.20,132.72 L475.67,132.88 L476.15,133.04 L476.62,133.20 L477.09,133.36 L477.57,133.53 L478.04,133.69 L478.51,133.86 L478.98,134.02 L479.46,134.19 L479.93,134.36 L480.40,134.53 L480.88,134.70 L481.35,134.87 L481.82,135.04 L482.29,135.22 L482.77,135.39 L483.24,135.56 L483.71,135.73 L484.19,135.90 L484.66,136.08 L485.13,136.25 L485.60,136.42 L486.08,136.59 L486.55,136.76 L487.02,136.93 L487.50,137.10 L487.97,137.27 L488.44,137.44 L488.91,137.60 L489.39,137.77 L489.86,137.93 L490.33,138.10 L490.81,138.26 L491.28,138.42 L491.75,138.58 L492.22,138.74 L492.70,138.89 L493.17,139.05 L493.64,139.20 L494.12,139.35 L494.59,139.50 L495.06,139.64 L495.53,139.79 L496.01,139.93 L496.48,140.07 L496.95,140.21 L497.42,140.35 L497.90,140.48 L498.37,140.61 L498.84,140.74 L499.32,140.87 L499.79,140.99 L500.26,141.12 L500.73,141.24 L501.21,141.36 L501.68,141.47 L502.15,141.59 L502.63,141.70 L503.10,141.81 L503.57,141.91 L504.04,142.02 L504.52,142.12 L504.99,142.22 L505.46,142.32 L505.94,142.41 L506.41,142.51 L506.88,142.60 L507.35,142.69 L507.83,142.77 L508.30,142.86 L508.77,142.94 L509.25,143.02 L509.72,143.10 L510.19,143.18 L510.66,143.25 L511.14,143.32 L511.61,143.39 L512.08,143.46 L512.56,143.53 L513.03,143.59 L513.50,143.66 L513.97,143.72 L514.45,143.78 L514.92,143.83 L515.39,143.89 L515.87,143.95 L516.34,144.00 L516.81,144.05 L517.28,144.10 L517.76,144.15 L518.23,144.20 L518.70,144.24 L519.17,144.28 L519.65,144.33 L520.12,144.37 L520.59,144.41 L521.07,144.45 L521.54,144.49 L522.01,144.52 L522.48,144.56 L522.96,144.59 L523.43,144.62 L523.90,144.66 L524.38,144.69 L524.85,144.72 L525.32,144.75 L525.79,144.77 L526.27,144.80 L526.74,144.83 L527.21,144.85 L527.69,144.88 L528.16,144.90 L528.63,144.92 L529.10,144.94 L529.58,144.97 L530.05,144.99 L530.52,145.01 L531.00,145.02 L531.47,145.04 L531.94,145.06 L532.41,145.08 L532.89,145.09 L533.36,145.11 L533.83,145.12 L534.31,145.14 L534.78,145.15 L535.25,145.17 L535.72,145.18 L536.20,145.19 L536.67,145.20 L537.14,145.22 L537.61,145.23 L538.09,145.24 L538.56,145.25 L539.03,145.26 L539.51,145.27 L539.98,145.28 L540.45,145.29 L540.92,145.29 L541.40,145.30 L541.87,145.31 L542.34,145.32 L542.82,145.33 L543.29,145.33 L543.76,145.34 L544.23,145.34 L544.71,145.35 L545.18,145.36 L545.65,145.36 L546.13,145.37 L546.60,145.37 L547.07,145.38 L547.54,145.38 L548.02,145.39 L548.49,145.39 L548.96,145.39 L549.44,145.40 L549.91,145.40 L550.38,145.41 L550.85,145.41 L551.33,145.41 L551.80,145.42 L552.27,145.42 L552.75,145.42 L553.22,145.42 L553.69,145.43 L554.16,145.43 L554.64,145.43 L555.11,145.43 L555.58,145.43 L556.06,145.44 L556.53,145.44 L557.00,145.44 L557.47,145.44 L557.95,145.44 L558.42,145.44 L558.89,145.45 L559.36,145.45 L559.84,145.45 L560.31,145.45 L560.78,145.45 L561.26,145.45 L561.73,145.45 L562.20,145.45 L562.67,145.45 L563.15,145.45 L563.62,145.46 L564.09,145.46 L564.57,145.46 L565.04,145.46 L565.51,145.46 L565.98,145.46 L566.46,145.46 L566.93,145.46 L567.40,145.46 L567.88,145.46 L568.35,145.46 L568.82,145.46 L569.29,145.46 L569.77,145.46 L570.24,145.46 L570.71,145.46 L571.19,145.46 L571.66,145.46 L572.13,145.46 L572.60,145.46 L573.08,145.46 L573.55,145.46 L574.02,145.46 L574.50,145.46 L574.97,145.46 L575.44,145.46 L575.91,145.46 L576.39,145.46 L576.86,145.46 L577.33,145.46 L577.80,145.46 L578.28,145.46 L578.75,145.46 L579.22,145.46 L579.70,145.46 L580.17,145.46 L580.64,145.46 L581.11,145.46 L581.59,145.46 L582.06,145.46 L582.53,145.46 L583.01,145.46 L583.48,145.46 L583.95,145.46 L584.42,145.46 L584.90,145.46 L585.37,145.46 L585.84,145.46 L586.32,145.46 L586.79,145.45 L587.26,145.45 L587.73,145.45 L588.21,145.45 L588.68,145.45 L589.15,145.45 L589.63,145.45 L590.10,145.45 L590.57,145.45 L591.04,145.45 L591.52,145.45 L591.99,145.45 L592.46,145.45 L592.94,145.45 L593.41,145.45 L593.88,145.45 L594.35,145.45 L594.83,145.45 L595.30,145.45 L595.77,145.45 L596.25,145.45 L596.72,145.45 L597.19,145.45 L597.66,145.45 L598.14,145.45 L598.61,145.45 L599.08,145.45 L599.55,145.45 L600.03,145.45 L600.50,145.45 L600.97,145.45 L601.45,145.45 L601.92,145.45 L602.39,145.45 L602.86,145.45 L603.34,145.45 L603.81,145.45 L604.28,145.45 L604.76,145.45 L605.23,145.45 L605.70,145.45 L606.17,145.45 L606.65,145.45 L607.12,145.45 L607.59,145.45 L608.07,145.45 L608.54,145.45 L609.01,145.45 L609.48,145.45 L609.96,145.45 L610.43,145.45 L610.90,145.45 L611.38,145.45 L611.85,145.45 L612.32,145.45 L612.79,145.45 L613.27,145.45 L613.74,145.45 L614.21,145.45 L614.69,145.45 L615.16,145.45 L615.63,145.45 L616.10,145.45 L616.58,145.45 L617.05,145.45 L617.52,145.44 L617.99,145.44 L618.47,145.44 L618.94,145.44 L619.41,145.44 L619.89,145.44 L620.36,145.44 L620.83,145.44 L621.30,145.44 L621.78,145.44 L622.25,145.44 L622.72,145.44 L623.20,145.44 L623.67,145.44 L624.14,145.44 L624.61,145.44 L625.09,145.44 L625.56,145.44 L626.03,145.44 L626.51,145.44 L626.98,145.44 L627.45,145.44 L627.92,145.44 L628.40,145.44 L628.87,145.44 L629.34,145.44 L629.82,145.44 L630.29,145.44 L630.76,145.44 L631.23,145.44 L631.71,145.44 L632.18,145.44 L632.65,145.45 L633.13,145.45 L633.60,145.45 L634.07,145.45 L634.54,145.45 L635.02,145.45 L635.49,145.45 L635.96,145.45 L636.44,145.45 L636.91,145.45 L637.38,145.45 L637.85,145.45 L638.33,145.45 L638.80,145.45 L639.27,145.45 L639.74,145.45 L640.22,145.45 L640.69,145.45 L641.16,145.45 L641.64,145.45 L642.11,145.45 L642.58,145.45 L643.05,145.45 L643.53,145.45 L644.00,145.45 L644.47,145.45 L644.95,145.45 L645.42,145.45 L645.89,145.45 L646.36,145.45 L646.84,145.45 L647.31,145.45 L647.78,145.45 L648.26,145.45 L648.73,145.45 L649.20,145.45 L649.67,145.45 L650.15,145.45 L650.62,145.45 L651.09,145.45 L651.57,145.45 L652.04,145.45 L652.51,145.45 L652.98,145.45 L653.46,145.45 L653.93,145.45 L654.40,145.45 L654.88,145.45 L655.35,145.45 L655.82,145.45 L656.29,145.45 L656.77,145.45 L657.24,145.45 L657.71,145.45 L658.19,145.45 L658.66,145.45 L659.13,145.45 L659.60,145.45 L660.08,145.45 L660.55,145.45 L661.02,145.45 L661.49,145.45 L661.97,145.45 L662.44,145.45 L662.91,145.45 L663.39,145.45 L663.86,145.45 L664.33,145.45 L664.80,145.45 L665.28,145.45 L665.75,145.45 L666.22,145.45 L666.70,145.45 L667.17,145.45 L667.64,145.45 L668.11,145.45 L668.59,145.45 L669.06,145.45 L669.53,145.45 L670.01,145.45 L670.48,145.45 L670.95,145.45 L671.42,145.45 L671.90,145.45 L672.37,145.45 L672.84,145.45 L673.32,145.45 L673.79,145.45 L674.26,145.45 L674.73,145.45 L675.21,145.45 L675.68,145.45 L676.15,145.45 L676.63,145.45 L677.10,145.45 L677.57,145.45 L678.04,145.45 L678.52,145.45 L678.99,145.45 L679.46,145.45 L679.93,145.45 L680.41,145.45 L680.88,145.45 L681.35,145.45 L681.83,145.45 L682.30,145.45 L682.77,145.45 L683.24,145.45 L683.72,145.45 L684.19,145.45" stroke="#D95319" stroke-width="3"/>
<path d="M22.71,95.14 L23.18,95.26 L23.66,95.38 L24.13,95.51 L24.60,95.64 L25.07,95.77 L25.55,95.90 L26.02,96.03 L26.49,96.17 L26.97,96.31 L27.44,96.45 L27.91,96.60 L28.38,96.74 L28.86,96.89 L29.33,97.05 L29.80,97.20 L30.27,97.36 L30.75,97.52 L31.22,97.68 L31.69,97.85 L32.17,98.02 L32.64,98.19 L33.11,98.36 L33.58,98.54 L34.06,98.71 L34.53,98.89 L35.00,99.08 L35.48,99.26 L35.95,99.45 L36.42,99.64 L36.89,99.84 L37.37,100.03 L37.84,100.23 L38.31,100.43 L38.79,100.64 L39.26,100.84 L39.73,101.05 L40.20,101.27 L40.68,101.48 L41.15,101.70 L41.62,101.91 L42.10,102.14 L42.57,102.36 L43.04,102.59 L43.51,102.82 L43.99,103.05 L44.46,103.28 L44.93,103.52 L45.41,103.76 L45.88,104.00 L46.35,104.24 L46.82,104.49 L47.30,104.74 L47.77,104.99 L48.24,105.24 L48.71,105.50 L49.19,105.75 L49.66,106.01 L50.13,106.28 L50.61,106.54 L51.08,106.81 L51.55,107.08 L52.02,107.35 L52.50,107.63 L52.97,107.90 L53.44,108.18 L53.92,108.46 L54.39,108.75 L54.86,109.03 L55.33,109.32 L55.81,109.61 L56.28,109.90 L56.75,110.20 L57.23,110.50 L57.70,110.79 L58.17,111.10 L58.64,111.40 L59.12,111.70 L59.59,112.01 L60.06,112.32 L60.54,112.63 L61.01,112.95 L61.48,113.26 L61.95,113.58 L62.43,113.90 L62.90,114.22 L63.37,114.55 L63.85,114.87 L64.32,115.20 L64.79,115.53 L65.26,115.86 L65.74,116.20 L66.21,116.53 L66.68,116.87 L67.16,117.21 L67.63,117.55 L68.10,117.89 L68.57,118.24 L69.05,118.58 L69.52,118.93 L69.99,119.28 L70.46,119.63 L70.94,119.99 L71.41,120.34 L71.88,120.70 L72.36,121.06 L72.83,121.41 L73.30,121.78 L73.77,122.14 L74.25,122.50 L74.72,122.87 L75.19,123.24 L75.67,123.61 L76.14,123.98 L76.61,124.35 L77.08,124.72 L77.56,125.10 L78.03,125.47 L78.50,125.85 L78.98,126.23 L79.45,126.61 L79.92,126.99 L80.39,127.37 L80.87,127.76 L81.34,128.14 L81.81,128.53 L82.29,128.91 L82.76,129.30 L83.23,129.69 L83.70,130.08 L84.18,130.47 L84.65,130.87 L85.12,131.26 L85.60,131.65 L86.07,132.05 L86.54,132.45 L87.01,132.84 L87.49,133.24 L87.96,133.64 L88.43,134.04 L88.91,134.44 L89.38,134.84 L89.85,135.24 L90.32,135.65 L90.80,136.05 L91.27,136.46 L91.74,136.86 L92.21,137.27 L92.69,137.67 L93.16,138.08 L93.63,138.49 L94.11,138.89 L94.58,139.30 L95.05,139.71 L95.52,140.12 L96.00,140.53 L96.47,140.94 L96.94,141.35 L97.42,141.76 L97.89,142.17 L98.36,142.58 L98.83,142.99 L99.31,143.40 L99.78,143.81 L100.25,144.23 L100.73,144.64 L101.20,145.05 L101.67,145.46 L102.14,145.87 L102.62,146.29 L103.09,146.70 L103.56,147.11 L104.04,147.52 L104.51,147.93 L104.98,148.34 L105.45,148.76 L105.93,149.17 L106.40,149.58 L106.87,149.99 L107.35,150.40 L107.82,150.81 L108.29,151.22 L108.76,151.63 L109.24,152.04 L109.71,152.45 L110.18,152.86 L110.65,153.26 L111.13,153.67 L111.60,154.08 L112.07,154.48 L112.55,154.89 L113.02,155.29 L113.49,155.70 L113.96,156.10 L114.44,156.51 L114.91,156.91 L115.38,157.31 L115.86,157.71 L116.33,158.11 L116.80,158.51 L117.27,158.91 L117.75,159.31 L118.22,159.70 L118.69,160.10 L119.17,160.49 L119.64,160.89 L120.11,161.28 L120.58,161.67 L121.06,162.06 L121.53,162.45 L122.00,162.84 L122.48,163.23 L122.95,163.62 L123.42,164.00 L123.89,164.38 L124.37,164.77 L124.84,165.15 L125.31,165.53 L125.79,165.91 L126.26,166.29 L126.73,166.66 L127.20,167.04 L127.68,167.41 L128.15,167.78 L128.62,168.15 L129.10,168.52 L129.57,168.89 L130.04,169.25 L130.51,169.62 L130.99,169.98 L131.46,170.34 L131.93,170.70 L132.40,171.06 L132.88,171.42 L133.35,171.77 L133.82,172.13 L134.30,172.48 L134.77,172.83 L135.24,173.17 L135.71,173.52 L136.19,173.86 L136.66,174.21 L137.13,174.55 L137.61,174.89 L138.08,175.22 L138.55,175.56 L139.02,175.89 L139.50,176.22 L139.97,176.55 L140.44,176.88 L140.92,177.20 L141.39,177.53 L141.86,177.85 L142.33,178.17 L142.81,178.48 L143.28,178.80 L143.75,179.11 L144.23,179.42 L144.70,179.73 L145.17,180.04 L145.64,180.34 L146.12,180.64 L146.59,180.94 L147.06,181.24 L147.54,181.54 L148.01,181.83 L148.48,182.12 L148.95,182.41 L149.43,182.69 L149.90,182.98 L150.37,183.26 L150.84,183.54 L151.32,183.82 L151.79,184.09 L152.26,184.36 L152.74,184.63 L153.21,184.90 L153.68,185.17 L154.15,185.43 L154.63,185.69 L155.10,185.95 L155.57,186.20 L156.05,186.45 L156.52,186.70 L156.99,186.95 L157.46,187.20 L157.94,187.44 L158.41,187.68 L158.88,187.92 L159.36,188.15 L159.83,188.39 L160.30,188.62 L160.77,188.84 L161.25,189.07 L161.72,189.29 L162.19,189.51 L162.67,189.73 L163.14,189.94 L163.61,190.15 L164.08,190.36 L164.56,190.57 L165.03,190.77 L165.50,190.97 L165.98,191.17 L166.45,191.37 L166.92,191.56 L167.39,191.75 L167.87,191.94 L168.34,192.12 L168.81,192.31 L169.29,192.49 L169.76,192.66 L170.23,192.84 L170.70,193.01 L171.18,193.18 L171.65,193.35 L172.12,193.51 L172.59,193.67 L173.07,193.83 L173.54,193.98 L174.01,194.14 L174.49,194.29 L174.96,194.43 L175.43,194.58 L175.90,194.72 L176.38,194.86 L176.85,194.99 L177.32,195.13 L177.80,195.26 L178.27,195.39 L178.74,195.51 L179.21,195.63 L179.69,195.75 L180.16,195.87 L180.63,195.99 L181.11,196.10 L181.58,196.21 L182.05,196.31 L182.52,196.42 L183.00,196.52 L183.47,196.62 L183.94,196.71 L184.42,196.80 L184.89,196.89 L185.36,196.98 L185.83,197.06 L186.31,197.15 L186.78,197.23 L187.25,197.30 L187.73,197.38 L188.20,197.45 L188.67,197.51 L189.14,197.58 L189.62,197.64 L190.09,197.70 L190.56,197.76 L191.03,197.82 L191.51,197.87 L191.98,197.92 L192.45,197.96 L192.93,198.01 L193.40,198.05 L193.87,198.09 L194.34,198.13 L194.82,198.16 L195.29,198.19 L195.76,198.22 L196.24,198.25 L196.71,198.27 L197.18,198.29 L197.65,198.31 L198.13,198.32 L198.60,198.34 L199.07,198.35 L199.55,198.36 L200.02,198.36 L200.49,198.36 L200.96,198.36 L201.44,198.36 L201.91,198.36 L202.38,198.35 L202.86,198.34 L203.33,198.33 L203.80,198.31 L204.27,198.30 L204.75,198.28 L205.22,198.26 L205.69,198.23 L206.17,198.21 L206.64,198.18 L207.11,198.14 L207.58,198.11 L208.06,198.07 L208.53,198.04 L209.00,197.99 L209.48,197.95 L209.95,197.91 L210.42,197.86 L210.89,197.81 L211.37,197.75 L211.84,197.70 L212.31,197.64 L212.78,197.58 L213.26,197.52 L213.73,197.46 L214.20,197.39 L214.68,197.32 L215.15,197.25 L215.62,197.18 L216.09,197.10 L216.57,197.03 L217.04,196.95 L217.51,196.87 L217.99,196.78 L218.46,196.70 L218.93,196.61 L219.40,196.52 L219.88,196.43 L220.35,196.33 L220.82,196.24 L221.30,196.14 L221.77,196.04 L222.24,195.94 L222.71,195.83 L223.19,195.73 L223.66,195.62 L224.13,195.51 L224.61,195.40 L225.08,195.28 L225.55,195.16 L226.02,195.05 L226.50,194.93 L226.97,194.81 L227.44,194.68 L227.92,194.56 L228.39,194.43 L228.86,194.30 L229.33,194.17 L229.81,194.04 L230.28,193.90 L230.75,193.76 L231.23,193.63 L231.70,193.49 L232.17,193.34 L232.64,193.20 L233.12,193.06 L233.59,192.91 L234.06,192.76 L234.53,192.61 L235.01,192.46 L235.48,192.31 L235.95,192.15 L236.43,191.99 L236.90,191.84 L237.37,191.68 L237.84,191.51 L238.32,191.35 L238.79,191.19 L239.26,191.02 L239.74,190.85 L240.21,190.68 L240.68,190.51 L241.15,190.34 L241.63,190.17 L242.10,189.99 L242.57,189.82 L243.05,189.64 L243.52,189.46 L243.99,189.28 L244.46,189.10 L244.94,188.91 L245.41,188.73 L245.88,188.54 L246.36,188.36 L246.83,188.17 L247.30,187.98 L247.77,187.79 L248.25,187.60 L248.72,187.40 L249.19,187.21 L249.67,187.01 L250.14,186.81 L250.61,186.62 L251.08,186.42 L251.56,186.22 L252.03,186.01 L252.50,185.81 L252.97,185.61 L253.45,185.40 L253.92,185.19 L254.39,184.99 L254.87,184.78 L255.34,184.57 L255.81,184.36 L256.28,184.15 L256.76,183.93 L257.23,183.72 L257.70,183.51 L258.18,183.29 L258.65,183.08 L259.12,182.86 L259.59,182.64 L260.07,182.42 L260.54,182.20 L261.01,181.98 L261.49,181.76 L261.96,181.54 L262.43,181.31 L262.90,181.09 L263.38,180.86 L263.85,180.64 L264.32,180.41 L264.80,180.18 L265.27,179.95 L265.74,179.73 L266.21,179.50 L266.69,179.27 L267.16,179.03 L267.63,178.80 L268.11,178.57 L268.58,178.34 L269.05,178.10 L269.52,177.87 L270.00,177.63 L270.47,177.40 L270.94,177.16 L271.42,176.93 L271.89,176.69 L272.36,176.45 L272.83,176.21 L273.31,175.97 L273.78,175.73 L274.25,175.49 L274.72,175.25 L275.20,175.01 L275.67,174.77 L276.14,174.53 L276.62,174.29 L277.09,174.04 L277.56,173.80 L278.03,173.56 L278.51,173.31 L278.98,173.07 L279.45,172.82 L279.93,172.58 L280.40,172.33 L280.87,172.09 L281.34,171.84 L281.82,171.60 L282.29,171.35 L282.76,171.10 L283.24,170.86 L283.71,170.61 L284.18,170.36 L284.65,170.11 L285.13,169.86 L285.60,169.62 L286.07,169.37 L286.55,169.12 L287.02,168.87 L287.49,168.62 L287.96,168.37 L288.44,168.12 L288.91,167.87 L289.38,167.62 L289.86,167.37 L290.33,167.12 L290.80,166.87 L291.27,166.62 L291.75,166.37 L292.22,166.12 L292.69,165.87 L293.16,165.62 L293.64,165.37 L294.11,165.12 L294.58,164.87 L295.06,164.62 L295.53,164.37 L296.00,164.12 L296.47,163.87 L296.95,163.62 L297.42,163.37 L297.89,163.12 L298.37,162.87 L298.84,162.62 L299.31,162.37 L299.78,162.12 L300.26,161.87 L300.73,161.62 L301.20,161.38 L301.68,161.13 L302.15,160.88 L302.62,160.63 L303.09,160.38 L303.57,160.13 L304.04,159.89 L304.51,159.64 L304.99,159.39 L305.46,159.14 L305.93,158.90 L306.40,158.65 L306.88,158.40 L307.35,158.16 L307.82,157.91 L308.30,157.66 L308.77,157.42 L309.24,157.17 L309.71,156.93 L310.19,156.69 L310.66,156.44 L311.13,156.20 L311.61,155.95 L312.08,155.71 L312.55,155.47 L313.02,155.23 L313.50,154.99 L313.97,154.74 L314.44,154.50 L314.91,154.26 L315.39,154.02 L315.86,153.78 L316.33,153.54 L316.81,153.30 L317.28,153.07 L317.75,152.83 L318.22,152.59 L318.70,152.35 L319.17,152.12 L319.64,151.88 L320.12,151.65 L320.59,151.41 L321.06,151.18 L321.53,150.94 L322.01,150.71 L322.48,150.48 L322.95,150.25 L323.43,150.01 L323.90,149.78 L324.37,149.55 L324.84,149.32 L325.32,149.09 L325.79,148.87 L326.26,148.64 L326.74,148.41 L327.21,148.18 L327.68,147.96 L328.15,147.73 L328.63,147.51 L329.10,147.28 L329.57,147.06 L330.05,146.84 L330.52,146.61 L330.99,146.39 L331.46,146.17 L331.94,145.95 L332.41,145.73 L332.88,145.52 L333.35,145.30 L333.83,145.08 L334.30,144.86 L334.77,144.65 L335.25,144.43 L335.72,144.22 L336.19,144.01 L336.66,143.79 L337.14,143.58 L337.61,143.37 L338.08,143.16 L338.56,142.95 L339.03,142.74 L339.50,142.53 L339.97,142.33 L340.45,142.12 L340.92,141.91 L341.39,141.71 L341.87,141.51 L342.34,141.30 L342.81,141.10 L343.28,140.90 L343.76,140.70 L344.23,140.50 L344.70,140.30 L345.18,140.10 L345.65,139.91 L346.12,139.71 L346.59,139.52 L347.07,139.32 L347.54,139.13 L348.01,138.94 L348.49,138.74 L348.96,138.55 L349.43,138.36 L349.90,138.17 L350.38,137.99 L350.85,137.80 L351.32,137.61 L351.80,137.43 L352.27,137.24 L352.74,137.06 L353.21,136.88 L353.69,136.70 L354.16,136.52 L354.63,136.34 L355.10,136.16 L355.58,135.98 L356.05,135.81 L356.52,135.63 L357.00,135.46 L357.47,135.28 L357.94,135.11 L358.41,134.94 L358.89,134.77 L359.36,134.60 L359.83,134.43 L360.31,134.26 L360.78,134.10 L361.25,133.93 L361.72,133.77 L362.20,133.60 L362.67,133.44 L363.14,133.28 L363.62,133.12 L364.09,132.96 L364.56,132.80 L365.03,132.65 L365.51,132.49 L365.98,132.34 L366.45,132.18 L366.93,132.03 L367.40,131.88 L367.87,131.73 L368.34,131.58 L368.82,131.43 L369.29,131.28 L369.76,131.14 L370.24,130.99 L370.71,130.85 L371.18,130.70 L371.65,130.56 L372.13,130.42 L372.60,130.28 L373.07,130.14 L373.55,130.00 L374.02,129.87 L374.49,129.73 L374.96,129.60 L375.44,129.46 L375.91,129.33 L376.38,129.20 L376.85,129.07 L377.33,128.94 L377.80,128.81 L378.27,128.69 L378.75,128.56 L379.22,128.44 L379.69,128.31 L380.16,128.19 L380.64,128.07 L381.11,127.95 L381.58,127.83 L382.06,127.71 L382.53,127.60 L383.00,127.48 L383.47,127.37 L383.95,127.26 L384.42,127.14 L384.89,127.03 L385.37,126.92 L385.84,126.81 L386.31,126.71 L386.78,126.60 L387.26,126.49 L387.73,126.39 L388.20,126.29 L388.68,126.19 L389.15,126.08 L389.62,125.98 L390.09,125.89 L390.57,125.79 L391.04,125.69 L391.51,125.60 L391.99,125.50 L392.46,125.41 L392.93,125.32 L393.40,125.23 L393.88,125.14 L394.35,125.05 L394.82,124.96 L395.29,124.88 L395.77,124.79 L396.24,124.71 L396.71,124.63 L397.19,124.54 L397.66,124.46 L398.13,124.38 L398.60,124.31 L399.08,124.23 L399.55,124.15 L400.02,124.08 L400.50,124.00 L400.97,123.93 L401.44,123.86 L401.91,123.79 L402.39,123.72 L402.86,123.65 L403.33,123.58 L403.81,123.52 L404.28,123.45 L404.75,123.39 L405.22,123.33 L405.70,123.27 L406.17,123.21 L406.64,123.15 L407.12,123.09 L407.59,123.03 L408.06,122.97 L408.53,122.92 L409.01,122.87 L409.48,122.81 L409.95,122.76 L410.43,122.71 L410.90,122.66 L411.37,122.61 L411.84,122.56 L412.32,122.52 L412.79,122.47 L413.26,122.43 L413.74,122.39 L414.21,122.34 L414.68,122.30 L415.15,122.26 L415.63,122.22 L416.10,122.19 L416.57,122.15 L417.04,122.11 L417.52,122.08 L417.99,122.04 L418.46,122.01 L418.94,121.98 L419.41,121.95 L419.88,121.92 L420.35,121.89 L420.83,121.86 L421.30,121.84 L421.77,121.81 L422.25,121.79 L422.72,121.76 L423.19,121.74 L423.66,121.72 L424.14,121.70 L424.61,121.68 L425.08,121.66 L425.56,121.64 L426.03,121.63 L426.50,121.61 L426.97,121.60 L427.45,121.58 L427.92,121.57 L428.39,121.56 L428.87,121.55 L429.34,121.54 L429.81,121.53 L430.28,121.52 L430.76,121.52 L431.23,121.51 L431.70,121.50 L432.18,121.50 L432.65,121.50 L433.12,121.50 L433.59,121.49 L434.07,121.49 L434.54,121.49 L435.01,121.50 L435.48,121.50 L435.96,121.50 L436.43,121.51 L436.90,121.51 L437.38,121.52 L437.85,121.52 L438.32,121.53 L438.79,121.54 L439.27,121.55 L439.74,121.56 L440.21,121.57 L440.69,121.58 L441.16,121.60 L441.63,121.61 L442.10,121.63 L442.58,121.64 L443.05,121.66 L443.52,121.68 L444.00,121.69 L444.47,121.71 L444.94,121.73 L445.41,121.75 L445.89,121.78 L446.36,121.80 L446.83,121.82 L447.31,121.84 L447.78,121.87 L448.25,121.89 L448.72,121.92 L449.20,121.95 L449.67,121.98 L450.14,122.00 L450.62,122.03 L451.09,122.06 L451.56,122.10 L452.03,122.13 L452.51,122.16 L452.98,122.19 L453.45,122.23 L453.93,122.26 L454.40,122.30 L454.87,122.33 L455.34,122.37 L455.82,122.41 L456.29,122.45 L456.76,122.49 L457.23,122.53 L457.71,122.57 L458.18,122.61 L458.65,122.65 L459.13,122.69 L459.60,122.74 L460.07,122.78 L460.54,122.83 L461.02,122.87 L461.49,122.92 L461.96,122.96 L462.44,123.01 L462.91,123.06 L463.38,123.11 L463.85,123.16 L464.33,123.21 L464.80,123.26 L465.27,123.31 L465.75,123.36 L466.22,123.42 L466.69,123.47 L467.16,123.52 L467.64,123.58 L468.11,123.63 L468.58,123.69 L469.06,123.75 L469.53,123.80 L470.00,123.86 L470.47,123.92 L470.95,123.98 L471.42,124.04 L471.89,124.10 L472.37,124.16 L472.84,124.22 L473.31,124.28 L473.78,124.34 L474.26,124.41 L474.73,124.47 L475.20,124.53 L475.67,124.60 L476.15,124.66 L476.62,124.73 L477.09,124.80 L477.57,124.86 L478.04,124.93 L478.51,125.00 L478.98,125.07 L479.46,125.14 L479.93,125.20 L480.40,125.27 L480.88,125.35 L481.35,125.42 L481.82,125.49 L482.29,125.56 L482.77,125.63 L483.24,125.71 L483.71,125.78 L484.19,125.85 L484.66,125.93 L485.13,126.00 L485.60,126.08 L486.08,126.15 L486.55,126.23 L487.02,126.31 L487.50,126.39 L487.97,126.46 L488.44,126.54 L488.91,126.62 L489.39,126.70 L489.86,126.78 L490.33,126.86 L490.81,126.94 L491.28,127.02 L491.75,127.10 L492.22,127.18 L492.70,127.27 L493.17,127.35 L493.64,127.43 L494.12,127.52 L494.59,127.60 L495.06,127.68 L495.53,127.77 L496.01,127.85 L496.48,127.94 L496.95,128.03 L497.42,128.11 L497.90,128.20 L498.37,128.29 L498.84,128.37 L499.32,128.46 L499.79,128.55 L500.26,128.64 L500.73,128.73 L501.21,128.82 L501.68,128.91 L502.15,129.00 L502.63,129.09 L503.10,129.18 L503.57,129.27 L504.04,129.36 L504.52,129.45 L504.99,129.55 L505.46,129.64 L505.94,129.73 L506.41,129.83 L506.88,129.92 L507.35,130.01 L507.83,130.11 L508.30,130.20 L508.77,130.30 L509.25,130.39 L509.72,130.49 L510.19,130.59 L510.66,130.68 L511.14,130.78 L511.61,130.88 L512.08,130.97 L512.56,131.07 L513.03,131.17 L513.50,131.27 L513.97,131.37 L514.45,131.47 L514.92,131.56 L515.39,131.66 L515.87,131.76 L516.34,131.86 L516.81,131.97 L517.28,132.07 L517.76,132.17 L518.23,132.27 L518.70,132.37 L519.17,132.47 L519.65,132.57 L520.12,132.68 L520.59,132.78 L521.07,132.88 L521.54,132.99 L522.01,133.09 L522.48,133.19 L522.96,133.30 L523.43,133.40 L523.90,133.51 L524.38,133.61 L524.85,133.72 L525.32,133.82 L525.79,133.93 L526.27,134.04 L526.74,134.14 L527.21,134.25 L527.69,134.36 L528.16,134.46 L528.63,134.57 L529.10,134.68 L529.58,134.79 L530.05,134.89 L530.52,135.00 L531.00,135.11 L531.47,135.22 L531.94,135.33 L532.41,135.44 L532.89,135.55 L533.36,135.66 L533.83,135.77 L534.31,135.88 L534.78,135.99 L535.25,136.10 L535.72,136.21 L536.20,136.32 L536.67,136.43 L537.14,136.54 L537.61,136.66 L538.09,136.77 L538.56,136.88 L539.03,136.99 L539.51,137.11 L539.98,137.22 L540.45,137.33 L540.92,137.45 L541.40,137.56 L541.87,137.67 L542.34,137.79 L542.82,137.90 L543.29,138.02 L543.76,138.13 L544.23,138.25 L544.71,138.36 L545.18,138.48 L545.65,138.59 L546.13,138.71 L546.60,138.82 L547.07,138.94 L547.54,139.06 L548.02,139.17 L548.49,139.29 L548.96,139.41 L549.44,139.53 L549.91,139.64 L550.38,139.76 L550.85,139.88 L551.33,140.00 L551.80,140.11 L552.27,140.23 L552.75,140.35 L553.22,140.47 L553.69,140.59 L554.16,140.71 L554.64,140.83 L555.11,140.95 L555.58,141.07 L556.06,141.19 L556.53,141.31 L557.00,141.43 L557.47,141.55 L557.95,141.67 L558.42,141.79 L558.89,141.91 L559.36,142.03 L559.84,142.15 L560.31,142.27 L560.78,142.39 L561.26,142.52 L561.73,142.64 L562.20,142.76 L562.67,142.88 L563.15,143.01 L563.62,143.13 L564.09,143.25 L564.57,143.37 L565.04,143.50 L565.51,143.62 L565.98,143.74 L566.46,143.87 L566.93,143.99 L567.40,144.11 L567.88,144.24 L568.35,144.36 L568.82,144.49 L569.29,144.61 L569.77,144.74 L570.24,144.86 L570.71,144.99 L571.19,145.11 L571.66,145.24 L572.13,145.36 L572.60,145.49 L573.08,145.61 L573.55,145.74 L574.02,145.87 L574.50,145.99 L574.97,146.12 L575.44,146.24 L575.91,146.37 L576.39,146.50 L576.86,146.62 L577.33,146.75 L577.80,146.88 L578.28,147.01 L578.75,147.13 L579.22,147.26 L579.70,147.39 L580.17,147.52 L580.64,147.64 L581.11,147.77 L581.59,147.90 L582.06,148.03 L582.53,148.16 L583.01,148.29 L583.48,148.41 L583.95,148.54 L584.42,148.67 L584.90,148.80 L585.37,148.93 L585.84,149.06 L586.32,149.19 L586.79,149.32 L587.26,149.45 L587.73,149.58 L588.21,149.71 L588.68,149.84 L589.15,149.97 L589.63,150.10 L590.10,150.23 L590.57,150.36 L591.04,150.49 L591.52,150.62 L591.99,150.75 L592.46,150.88 L592.94,151.01 L593.41,151.14 L593.88,151.27 L594.35,151.40 L594.83,151.53 L595.30,151.67 L595.77,151.80 L596.25,151.93 L596.72,152.06 L597.19,152.19 L597.66,152.32 L598.14,152.46 L598.61,152.59 L599.08,152.72 L599.55,152.85 L600.03,152.98 L600.50,153.12 L600.97,153.25 L601.45,153.38 L601.92,153.51 L602.39,153.65 L602.86,153.78 L603.34,153.91 L603.81,154.04 L604.28,154.18 L604.76,154.31 L605.23,154.44 L605.70,154.57 L606.17,154.71 L606.65,154.84 L607.12,154.97 L607.59,155.11 L608.07,155.24 L608.54,155.37 L609.01,155.51 L609.48,155.64 L609.96,155.77 L610.43,155.91 L610.90,156.04 L611.38,156.17 L611.85,156.31 L612.32,156.44 L612.79,156.58 L613.27,156.71 L613.74,156.84 L614.21,156.98 L614.69,157.11 L615.16,157.25 L615.63,157.38 L616.10,157.51 L616.58,157.65 L617.05,157.78 L617.52,157.92 L617.99,158.05 L618.47,158.18 L618.94,158.32 L619.41,158.45 L619.89,158.59 L620.36,158.72 L620.83,158.86 L621.30,158.99 L621.78,159.12 L622.25,159.26 L622.72,159.39 L623.20,159.53 L623.67,159.66 L624.14,159.80 L624.61,159.93 L625.09,160.06 L625.56,160.20 L626.03,160.33 L626.51,160.47 L626.98,160.60 L627.45,160.74 L627.92,160.87 L628.40,161.01 L628.87,161.14 L629.34,161.27 L629.82,161.41 L630.29,161.54 L630.76,161.68 L631.23,161.81 L631.71,161.95 L632.18,162.08 L632.65,162.21 L633.13,162.35 L633.60,162.48 L634.07,162.62 L634.54,162.75 L635.02,162.88 L635.49,163.02 L635.96,163.15 L636.44,163.29 L636.91,163.42 L637.38,163.56 L637.85,163.69 L638.33,163.82 L638.80,163.96 L639.27,164.09 L639.74,164.22 L640.22,164.36 L640.69,164.49 L641.16,164.63 L641.64,164.76 L642.11,164.89 L642.58,165.03 L643.05,165.16 L643.53,165.29 L644.00,165.43 L644.47,165.56 L644.95,165.69 L645.42,165.83 L645.89,165.96 L646.36,166.09 L646.84,166.23 L647.31,166.36 L647.78,166.49 L648.26,166.63 L648.73,166.76 L649.20,166.89 L649.67,167.02 L650.15,167.16 L650.62,167.29 L651.09,167.42 L651.57,167.55 L652.04,167.69 L652.51,167.82 L652.98,167.95 L653.46,168.08 L653.93,168.21 L654.40,168.35 L654.88,168.48 L655.35,168.61 L655.82,168.74 L656.29,168.87 L656.77,169.00 L657.24,169.14 L657.71,169.27 L658.19,169.40 L658.66,169.53 L659.13,169.66 L659.60,169.79 L660.08,169.92 L660.55,170.05 L661.02,170.18 L661.49,170.31 L661.97,170.45 L662.44,170.58 L662.91,170.71 L663.39,170.84 L663.86,170.97 L664.33,171.10 L664.80,171.23 L665.28,171.36 L665.75,171.49 L666.22,171.61 L666.70,171.74 L667.17,171.87 L667.64,172.00 L668.11,172.13 L668.59,172.26 L669.06,172.39 L669.53,172.52 L670.01,172.65 L670.48,172.77 L670.95,172.90 L671.42,173.03 L671.90,173.16 L672.37,173.29 L672.84,173.41 L673.32,173.54 L673.79,173.67 L674.26,173.80 L674.73,173.92 L675.21,174.05 L675.68,174.18 L676.15,174.31 L676.63,174.43 L677.10,174.56 L677.57,174.69 L678.04,174.81 L678.52,174.94 L678.99,175.06 L679.46,175.19 L679.93,175.32 L680.41,175.44 L680.88,175.57 L681.35,175.69 L681.83,175.82 L682.30,175.94 L682.77,176.07 L683.24,176.19 L683.72,176.32 L684.19,176.44" stroke="#A2142F" stroke-width="3"/>
<path d="M22.71,83.33 L23.18,83.68 L23.66,84.03 L24.13,84.38 L24.60,84.73 L25.07,85.08 L25.55,85.43 L26.02,85.78 L26.49,86.13 L26.97,86.48 L27.44,86.83 L27.91,87.18 L28.38,87.53 L28.86,87.88 L29.33,88.23 L29.80,88.58 L30.27,88.93 L30.75,89.28 L31.22,89.63 L31.69,89.99 L32.17,90.34 L32.64,90.69 L33.11,91.04 L33.58,91.40 L34.06,91.75 L34.53,92.10 L35.00,92.45 L35.48,92.81 L35.95,93.16 L36.42,93.51 L36.89,93.87 L37.37,94.22 L37.84,94.58 L38.31,94.93 L38.79,95.29 L39.26,95.64 L39.73,96.00 L40.20,96.36 L40.68,96.71 L41.15,97.07 L41.62,97.43 L42.10,97.78 L42.57,98.14 L43.04,98.50 L43.51,98.86 L43.99,99.22 L44.46,99.58 L44.93,99.94 L45.41,100.30 L45.88,100.66 L46.35,101.02 L46.82,101.38 L47.30,101.74 L47.77,102.10 L48.24,102.47 L48.71,102.83 L49.19,103.19 L49.66,103.56 L50.13,103.92 L50.61,104.29 L51.08,104.65 L51.55,105.02 L52.02,105.39 L52.50,105.76 L52.97,106.13 L53.44,106.49 L53.92,106.86 L54.39,107.24 L54.86,107.61 L55.33,107.98 L55.81,108.35 L56.28,108.73 L56.75,109.10 L57.23,109.48 L57.70,109.85 L58.17,110.23 L58.64,110.61 L59.12,110.99 L59.59,111.37 L60.06,111.75 L60.54,112.14 L61.01,112.52 L61.48,112.91 L61.95,113.30 L62.43,113.68 L62.90,114.08 L63.37,114.47 L63.85,114.87 L64.32,115.26 L64.79,115.67 L65.26,116.07 L65.74,116.48 L66.21,116.88 L66.68,117.29 L67.16,117.70 L67.63,118.12 L68.10,118.53 L68.57,118.94 L69.05,119.36 L69.52,119.78 L69.99,120.19 L70.46,120.61 L70.94,121.03 L71.41,121.45 L71.88,121.87 L72.36,122.29 L72.83,122.71 L73.30,123.13 L73.77,123.56 L74.25,123.98 L74.72,124.40 L75.19,124.83 L75.67,125.25 L76.14,125.68 L76.61,126.10 L77.08,126.53 L77.56,126.95 L78.03,127.38 L78.50,127.81 L78.98,128.23 L79.45,128.66 L79.92,129.09 L80.39,129.51 L80.87,129.94 L81.34,130.37 L81.81,130.79 L82.29,131.22 L82.76,131.65 L83.23,132.08 L83.70,132.50 L84.18,132.93 L84.65,133.36 L85.12,133.78 L85.60,134.21 L86.07,134.64 L86.54,135.06 L87.01,135.49 L87.49,135.91 L87.96,136.34 L88.43,136.76 L88.91,137.19 L89.38,137.61 L89.85,138.04 L90.32,138.46 L90.80,138.88 L91.27,139.31 L91.74,139.73 L92.21,140.15 L92.69,140.57 L93.16,140.99 L93.63,141.42 L94.11,141.84 L94.58,142.26 L95.05,142.67 L95.52,143.09 L96.00,143.51 L96.47,143.93 L96.94,144.34 L97.42,144.76 L97.89,145.18 L98.36,145.59 L98.83,146.00 L99.31,146.42 L99.78,146.83 L100.25,147.24 L100.73,147.65 L101.20,148.06 L101.67,148.47 L102.14,148.88 L102.62,149.29 L103.09,149.70 L103.56,150.10 L104.04,150.51 L104.51,150.91 L104.98,151.31 L105.45,151.71 L105.93,152.12 L106.40,152.52 L106.87,152.92 L107.35,153.31 L107.82,153.71 L108.29,154.11 L108.76,154.50 L109.24,154.89 L109.71,155.29 L110.18,155.68 L110.65,156.07 L111.13,156.46 L111.60,156.84 L112.07,157.23 L112.55,157.61 L113.02,158.00 L113.49,158.38 L113.96,158.76 L114.44,159.14 L114.91,159.52 L115.38,159.90 L115.86,160.27 L116.33,160.65 L116.80,161.02 L117.27,161.39 L117.75,161.76 L118.22,162.13 L118.69,162.49 L119.17,162.86 L119.64,163.22 L120.11,163.58 L120.58,163.94 L121.06,164.30 L121.53,164.66 L122.00,165.01 L122.48,165.36 L122.95,165.71 L123.42,166.06 L123.89,166.41 L124.37,166.76 L124.84,167.10 L125.31,167.44 L125.79,167.78 L126.26,168.12 L126.73,168.45 L127.20,168.78 L127.68,169.12 L128.15,169.44 L128.62,169.77 L129.10,170.10 L129.57,170.42 L130.04,170.74 L130.51,171.05 L130.99,171.37 L131.46,171.68 L131.93,171.99 L132.40,172.30 L132.88,172.60 L133.35,172.90 L133.82,173.20 L134.30,173.50 L134.77,173.79 L135.24,174.08 L135.71,174.37 L136.19,174.66 L136.66,174.94 L137.13,175.22 L137.61,175.49 L138.08,175.76 L138.55,176.03 L139.02,176.29 L139.50,176.55 L139.97,176.81 L140.44,177.06 L140.92,177.31 L141.39,177.55 L141.86,177.78 L142.33,178.01 L142.81,178.23 L143.28,178.45 L143.75,178.66 L144.23,178.87 L144.70,179.08 L145.17,179.28 L145.64,179.48 L146.12,179.68 L146.59,179.87 L147.06,180.06 L147.54,180.24 L148.01,180.42 L148.48,180.60 L148.95,180.78 L149.43,180.95 L149.90,181.12 L150.37,181.29 L150.84,181.46 L151.32,181.62 L151.79,181.78 L152.26,181.93 L152.74,182.09 L153.21,182.24 L153.68,182.39 L154.15,182.53 L154.63,182.68 L155.10,182.82 L155.57,182.96 L156.05,183.09 L156.52,183.23 L156.99,183.36 L157.46,183.49 L157.94,183.62 L158.41,183.74 L158.88,183.87 L159.36,183.99 L159.83,184.11 L160.30,184.22 L160.77,184.34 L161.25,184.45 L161.72,184.56 L162.19,184.67 L162.67,184.77 L163.14,184.88 L163.61,184.98 L164.08,185.08 L164.56,185.18 L165.03,185.27 L165.50,185.37 L165.98,185.46 L166.45,185.55 L166.92,185.64 L167.39,185.73 L167.87,185.81 L168.34,185.89 L168.81,185.98 L169.29,186.06 L169.76,186.13 L170.23,186.21 L170.70,186.28 L171.18,186.36 L171.65,186.43 L172.12,186.50 L172.59,186.56 L173.07,186.63 L173.54,186.69 L174.01,186.75 L174.49,186.82 L174.96,186.87 L175.43,186.93 L175.90,186.99 L176.38,187.04 L176.85,187.09 L177.32,187.14 L177.80,187.19 L178.27,187.24 L178.74,187.29 L179.21,187.33 L179.69,187.38 L180.16,187.42 L180.63,187.46 L181.11,187.50 L181.58,187.53 L182.05,187.57 L182.52,187.60 L183.00,187.64 L183.47,187.67 L183.94,187.70 L184.42,187.72 L184.89,187.75 L185.36,187.78 L185.83,187.80 L186.31,187.82 L186.78,187.84 L187.25,187.86 L187.73,187.88 L188.20,187.90 L188.67,187.91 L189.14,187.93 L189.62,187.94 L190.09,187.95 L190.56,187.96 L191.03,187.97 L191.51,187.98 L191.98,187.99 L192.45,187.99 L192.93,187.99 L193.40,188.00 L193.87,188.00 L194.34,188.00 L194.82,188.00 L195.29,187.99 L195.76,187.99 L196.24,187.98 L196.71,187.98 L197.18,187.97 L197.65,187.96 L198.13,187.95 L198.60,187.94 L199.07,187.93 L199.55,187.91 L200.02,187.90 L200.49,187.88 L200.96,187.86 L201.44,187.84 L201.91,187.82 L202.38,187.80 L202.86,187.78 L203.33,187.76 L203.80,187.73 L204.27,187.71 L204.75,187.68 L205.22,187.65 L205.69,187.62 L206.17,187.59 L206.64,187.56 L207.11,187.53 L207.58,187.49 L208.06,187.46 L208.53,187.42 L209.00,187.39 L209.48,187.35 L209.95,187.31 L210.42,187.27 L210.89,187.23 L211.37,187.18 L211.84,187.14 L212.31,187.10 L212.78,187.05 L213.26,187.00 L213.73,186.95 L214.20,186.91 L214.68,186.86 L215.15,186.80 L215.62,186.75 L216.09,186.70 L216.57,186.65 L217.04,186.59 L217.51,186.53 L217.99,186.48 L218.46,186.42 L218.93,186.36 L219.40,186.30 L219.88,186.24 L220.35,186.18 L220.82,186.11 L221.30,186.05 L221.77,185.98 L222.24,185.92 L222.71,185.85 L223.19,185.78 L223.66,185.71 L224.13,185.64 L224.61,185.57 L225.08,185.50 L225.55,185.43 L226.02,185.35 L226.50,185.28 L226.97,185.20 L227.44,185.13 L227.92,185.05 L228.39,184.97 L228.86,184.89 L229.33,184.81 L229.81,184.73 L230.28,184.65 L230.75,184.57 L231.23,184.48 L231.70,184.40 L232.17,184.31 L232.64,184.22 L233.12,184.14 L233.59,184.05 L234.06,183.96 L234.53,183.87 L235.01,183.78 L235.48,183.69 L235.95,183.59 L236.43,183.50 L236.90,183.40 L237.37,183.31 L237.84,183.21 L238.32,183.11 L238.79,183.02 L239.26,182.92 L239.74,182.82 L240.21,182.72 L240.68,182.62 L241.15,182.51 L241.63,182.41 L242.10,182.31 L242.57,182.20 L243.05,182.10 L243.52,181.99 L243.99,181.88 L244.46,181.77 L244.94,181.66 L245.41,181.55 L245.88,181.44 L246.36,181.33 L246.83,181.22 L247.30,181.11 L247.77,180.99 L248.25,180.88 L248.72,180.76 L249.19,180.65 L249.67,180.53 L250.14,180.41 L250.61,180.29 L251.08,180.17 L251.56,180.05 L252.03,179.93 L252.50,179.81 L252.97,179.69 L253.45,179.56 L253.92,179.44 L254.39,179.31 L254.87,179.19 L255.34,179.06 L255.81,178.93 L256.28,178.80 L256.76,178.67 L257.23,178.54 L257.70,178.41 L258.18,178.28 L258.65,178.15 L259.12,178.02 L259.59,177.88 L260.07,177.75 L260.54,177.61 L261.01,177.48 L261.49,177.34 L261.96,177.20 L262.43,177.07 L262.90,176.93 L263.38,176.79 L263.85,176.65 L264.32,176.50 L264.80,176.36 L265.27,176.22 L265.74,176.08 L266.21,175.93 L266.69,175.79 L267.16,175.64 L267.63,175.49 L268.11,175.35 L268.58,175.20 L269.05,175.05 L269.52,174.90 L270.00,174.75 L270.47,174.60 L270.94,174.44 L271.42,174.29 L271.89,174.14 L272.36,173.98 L272.83,173.83 L273.31,173.67 L273.78,173.51 L274.25,173.36 L274.72,173.20 L275.20,173.04 L275.67,172.88 L276.14,172.72 L276.62,172.56 L277.09,172.39 L277.56,172.23 L278.03,172.07 L278.51,171.90 L278.98,171.73 L279.45,171.57 L279.93,171.40 L280.40,171.23 L280.87,171.06 L281.34,170.89 L281.82,170.72 L282.29,170.55 L282.76,170.38 L283.24,170.20 L283.71,170.03 L284.18,169.85 L284.65,169.68 L285.13,169.50 L285.60,169.32 L286.07,169.14 L286.55,168.96 L287.02,168.78 L287.49,168.59 L287.96,168.41 L288.44,168.22 L288.91,168.03 L289.38,167.84 L289.86,167.65 L290.33,167.46 L290.80,167.27 L291.27,167.07 L291.75,166.88 L292.22,166.68 L292.69,166.49 L293.16,166.29 L293.64,166.09 L294.11,165.89 L294.58,165.69 L295.06,165.49 L295.53,165.29 L296.00,165.09 L296.47,164.89 L296.95,164.69 L297.42,164.48 L297.89,164.28 L298.37,164.07 L298.84,163.87 L299.31,163.66 L299.78,163.46 L300.26,163.25 L300.73,163.04 L301.20,162.83 L301.68,162.62 L302.15,162.42 L302.62,162.21 L303.09,162.00 L303.57,161.78 L304.04,161.57 L304.51,161.36 L304.99,161.15 L305.46,160.94 L305.93,160.72 L306.40,160.51 L306.88,160.30 L307.35,160.08 L307.82,159.87 L308.30,159.65 L308.77,159.44 L309.24,159.22 L309.71,159.01 L310.19,158.79 L310.66,158.58 L311.13,158.36 L311.61,158.14 L312.08,157.92 L312.55,157.71 L313.02,157.49 L313.50,157.27 L313.97,157.05 L314.44,156.83 L314.91,156.62 L315.39,156.40 L315.86,156.18 L316.33,155.96 L316.81,155.74 L317.28,155.52 L317.75,155.30 L318.22,155.08 L318.70,154.86 L319.17,154.64 L319.64,154.42 L320.12,154.20 L320.59,153.98 L321.06,153.76 L321.53,153.54 L322.01,153.32 L322.48,153.09 L322.95,152.87 L323.43,152.65 L323.90,152.43 L324.37,152.21 L324.84,151.99 L325.32,151.77 L325.79,151.55 L326.26,151.33 L326.74,151.10 L327.21,150.88 L327.68,150.66 L328.15,150.44 L328.63,150.22 L329.10,150.00 L329.57,149.78 L330.05,149.56 L330.52,149.34 L330.99,149.12 L331.46,148.90 L331.94,148.68 L332.41,148.45 L332.88,148.23 L333.35,148.01 L333.83,147.79 L334.30,147.58 L334.77,147.36 L335.25,147.14 L335.72,146.92 L336.19,146.70 L336.66,146.48 L337.14,146.26 L337.61,146.04 L338.08,145.82 L338.56,145.61 L339.03,145.39 L339.50,145.17 L339.97,144.95 L340.45,144.74 L340.92,144.52 L341.39,144.30 L341.87,144.09 L342.34,143.87 L342.81,143.66 L343.28,143.44 L343.76,143.23 L344.23,143.01 L344.70,142.80 L345.18,142.59 L345.65,142.37 L346.12,142.16 L346.59,141.95 L347.07,141.74 L347.54,141.53 L348.01,141.31 L348.49,141.10 L348.96,140.89 L349.43,140.68 L349.90,140.47 L350.38,140.27 L350.85,140.06 L351.32,139.85 L351.80,139.64 L352.27,139.44 L352.74,139.23 L353.21,139.03 L353.69,138.82 L354.16,138.62 L354.63,138.41 L355.10,138.21 L355.58,138.01 L356.05,137.80 L356.52,137.60 L357.00,137.40 L357.47,137.20 L357.94,137.00 L358.41,136.81 L358.89,136.61 L359.36,136.41 L359.83,136.21 L360.31,136.02 L360.78,135.82 L361.25,135.63 L361.72,135.44 L362.20,135.24 L362.67,135.05 L363.14,134.86 L363.62,134.67 L364.09,134.48 L364.56,134.29 L365.03,134.10 L365.51,133.92 L365.98,133.73 L366.45,133.55 L366.93,133.36 L367.40,133.18 L367.87,133.00 L368.34,132.82 L368.82,132.64 L369.29,132.46 L369.76,132.28 L370.24,132.10 L370.71,131.93 L371.18,131.75 L371.65,131.58 L372.13,131.41 L372.60,131.23 L373.07,131.06 L373.55,130.89 L374.02,130.73 L374.49,130.56 L374.96,130.39 L375.44,130.23 L375.91,130.07 L376.38,129.91 L376.85,129.75 L377.33,129.59 L377.80,129.43 L378.27,129.27 L378.75,129.12 L379.22,128.96 L379.69,128.81 L380.16,128.66 L380.64,128.51 L381.11,128.37 L381.58,128.22 L382.06,128.08 L382.53,127.93 L383.00,127.79 L383.47,127.65 L383.95,127.52 L384.42,127.38 L384.89,127.25 L385.37,127.12 L385.84,126.99 L386.31,126.86 L386.78,126.73 L387.26,126.61 L387.73,126.49 L388.20,126.37 L388.68,126.25 L389.15,126.14 L389.62,126.02 L390.09,125.91 L390.57,125.81 L391.04,125.70 L391.51,125.60 L391.99,125.50 L392.46,125.40 L392.93,125.31 L393.40,125.22 L393.88,125.14 L394.35,125.06 L394.82,124.98 L395.29,124.91 L395.77,124.84 L396.24,124.78 L396.71,124.72 L397.19,124.66 L397.66,124.61 L398.13,124.55 L398.60,124.50 L399.08,124.45 L399.55,124.41 L400.02,124.37 L400.50,124.32 L400.97,124.29 L401.44,124.25 L401.91,124.21 L402.39,124.18 L402.86,124.15 L403.33,124.12 L403.81,124.10 L404.28,124.07 L404.75,124.05 L405.22,124.03 L405.70,124.01 L406.17,123.99 L406.64,123.97 L407.12,123.96 L407.59,123.95 L408.06,123.93 L408.53,123.93 L409.01,123.92 L409.48,123.91 L409.95,123.91 L410.43,123.90 L410.90,123.90 L411.37,123.90 L411.84,123.90 L412.32,123.90 L412.79,123.90 L413.26,123.91 L413.74,123.92 L414.21,123.92 L414.68,123.93 L415.15,123.94 L415.63,123.95 L416.10,123.97 L416.57,123.98 L417.04,123.99 L417.52,124.01 L417.99,124.03 L418.46,124.05 L418.94,124.06 L419.41,124.09 L419.88,124.11 L420.35,124.13 L420.83,124.15 L421.30,124.18 L421.77,124.20 L422.25,124.23 L422.72,124.26 L423.19,124.29 L423.66,124.32 L424.14,124.35 L424.61,124.38 L425.08,124.41 L425.56,124.45 L426.03,124.48 L426.50,124.52 L426.97,124.56 L427.45,124.59 L427.92,124.63 L428.39,124.67 L428.87,124.71 L429.34,124.75 L429.81,124.80 L430.28,124.84 L430.76,124.88 L431.23,124.93 L431.70,124.97 L432.18,125.02 L432.65,125.06 L433.12,125.11 L433.59,125.16 L434.07,125.21 L434.54,125.26 L435.01,125.31 L435.48,125.36 L435.96,125.41 L436.43,125.47 L436.90,125.52 L437.38,125.58 L437.85,125.63 L438.32,125.69 L438.79,125.74 L439.27,125.80 L439.74,125.86 L440.21,125.92 L440.69,125.97 L441.16,126.03 L441.63,126.09 L442.10,126.16 L442.58,126.22 L443.05,126.28 L443.52,126.34 L444.00,126.40 L444.47,126.47 L444.94,126.53 L445.41,126.60 L445.89,126.66 L446.36,126.73 L446.83,126.80 L447.31,126.86 L447.78,126.93 L448.25,127.00 L448.72,127.07 L449.20,127.14 L449.67,127.21 L450.14,127.28 L450.62,127.35 L451.09,127.42 L451.56,127.49 L452.03,127.56 L452.51,127.63 L452.98,127.71 L453.45,127.78 L453.93,127.85 L454.40,127.93 L454.87,128.00 L455.34,128.08 L455.82,128.15 L456.29,128.23 L456.76,128.31 L457.23,128.38 L457.71,128.46 L458.18,128.54 L458.65,128.62 L459.13,128.69 L459.60,128.77 L460.07,128.85 L460.54,128.93 L461.02,129.01 L461.49,129.09 L461.96,129.17 L462.44,129.25 L462.91,129.33 L463.38,129.41 L463.85,129.50 L464.33,129.58 L464.80,129.66 L465.27,129.74 L465.75,129.82 L466.22,129.91 L466.69,129.99 L467.16,130.07 L467.64,130.16 L468.11,130.24 L468.58,130.33 L469.06,130.41 L469.53,130.50 L470.00,130.58 L470.47,130.67 L470.95,130.75 L471.42,130.84 L471.89,130.92 L472.37,131.01 L472.84,131.10 L473.31,131.18 L473.78,131.27 L474.26,131.36 L474.73,131.44 L475.20,131.53 L475.67,131.62 L476.15,131.71 L476.62,131.79 L477.09,131.88 L477.57,131.97 L478.04,132.06 L478.51,132.15 L478.98,132.24 L479.46,132.32 L479.93,132.41 L480.40,132.50 L480.88,132.59 L481.35,132.68 L481.82,132.77 L482.29,132.86 L482.77,132.95 L483.24,133.04 L483.71,133.13 L484.19,133.22 L484.66,133.31 L485.13,133.40 L485.60,133.49 L486.08,133.58 L486.55,133.67 L487.02,133.76 L487.50,133.85 L487.97,133.94 L488.44,134.03 L488.91,134.12 L489.39,134.21 L489.86,134.30 L490.33,134.39 L490.81,134.48 L491.28,134.57 L491.75,134.66 L492.22,134.75 L492.70,134.84 L493.17,134.93 L493.64,135.02 L494.12,135.11 L494.59,135.20 L495.06,135.29 L495.53,135.38 L496.01,135.47 L496.48,135.56 L496.95,135.65 L497.42,135.74 L497.90,135.83 L498.37,135.92 L498.84,136.01 L499.32,136.10 L499.79,136.19 L500.26,136.28 L500.73,136.37 L501.21,136.46 L501.68,136.55 L502.15,136.64 L502.63,136.72 L503.10,136.81 L503.57,136.90 L504.04,136.99 L504.52,137.08 L504.99,137.17 L505.46,137.25 L505.94,137.34 L506.41,137.43 L506.88,137.52 L507.35,137.61 L507.83,137.69 L508.30,137.78 L508.77,137.87 L509.25,137.95 L509.72,138.04 L510.19,138.13 L510.66,138.21 L511.14,138.30 L511.61,138.39 L512.08,138.47 L512.56,138.56 L513.03,138.64 L513.50,138.73 L513.97,138.81 L514.45,138.90 L514.92,138.98 L515.39,139.06 L515.87,139.15 L516.34,139.23 L516.81,139.31 L517.28,139.40 L517.76,139.48 L518.23,139.56 L518.70,139.64 L519.17,139.73 L519.65,139.81 L520.12,139.89 L520.59,139.97 L521.07,140.05 L521.54,140.13 L522.01,140.21 L522.48,140.29 L522.96,140.37 L523.43,140.45 L523.90,140.53 L524.38,140.60 L524.85,140.68 L525.32,140.76 L525.79,140.84 L526.27,140.91 L526.74,140.99 L527.21,141.07 L527.69,141.14 L528.16,141.22 L528.63,141.29 L529.10,141.37 L529.58,141.44 L530.05,141.51 L530.52,141.59 L531.00,141.66 L531.47,141.73 L531.94,141.81 L532.41,141.88 L532.89,141.95 L533.36,142.02 L533.83,142.09 L534.31,142.16 L534.78,142.23 L535.25,142.30 L535.72,142.36 L536.20,142.43 L536.67,142.50 L537.14,142.57 L537.61,142.63 L538.09,142.70 L538.56,142.76 L539.03,142.83 L539.51,142.89 L539.98,142.95 L540.45,143.02 L540.92,143.08 L541.40,143.14 L541.87,143.20 L542.34,143.26 L542.82,143.32 L543.29,143.38 L543.76,143.44 L544.23,143.50 L544.71,143.56 L545.18,143.61 L545.65,143.67 L546.13,143.73 L546.60,143.78 L547.07,143.83 L547.54,143.89 L548.02,143.94 L548.49,143.99 L548.96,144.04 L549.44,144.10 L549.91,144.15 L550.38,144.20 L550.85,144.24 L551.33,144.29 L551.80,144.34 L552.27,144.39 L552.75,144.43 L553.22,144.48 L553.69,144.52 L554.16,144.56 L554.64,144.61 L555.11,144.65 L555.58,144.69 L556.06,144.73 L556.53,144.77 L557.00,144.81 L557.47,144.84 L557.95,144.88 L558.42,144.91 L558.89,144.95 L559.36,144.98 L559.84,145.02 L560.31,145.05 L560.78,145.08 L561.26,145.11 L561.73,145.14 L562.20,145.16 L562.67,145.19 L563.15,145.22 L563.62,145.24 L564.09,145.26 L564.57,145.29 L565.04,145.31 L565.51,145.33 L565.98,145.35 L566.46,145.36 L566.93,145.38 L567.40,145.39 L567.88,145.41 L568.35,145.42 L568.82,145.43 L569.29,145.44 L569.77,145.45 L570.24,145.45 L570.71,145.46 L571.19,145.46 L571.66,145.46 L572.13,145.46 L572.60,145.46 L573.08,145.45 L573.55,145.44 L574.02,145.43 L574.50,145.42 L574.97,145.41 L575.44,145.39 L575.91,145.38 L576.39,145.36 L576.86,145.34 L577.33,145.32 L577.80,145.30 L578.28,145.27 L578.75,145.25 L579.22,145.22 L579.70,145.19 L580.17,145.16 L580.64,145.13 L581.11,145.10 L581.59,145.07 L582.06,145.04 L582.53,145.00 L583.01,144.97 L583.48,144.93 L583.95,144.89 L584.42,144.85 L584.90,144.81 L585.37,144.77 L585.84,144.73 L586.32,144.69 L586.79,144.64 L587.26,144.60 L587.73,144.55 L588.21,144.50 L588.68,144.45 L589.15,144.40 L589.63,144.35 L590.10,144.30 L590.57,144.25 L591.04,144.20 L591.52,144.15 L591.99,144.09 L592.46,144.03 L592.94,143.98 L593.41,143.92 L593.88,143.86 L594.35,143.80 L594.83,143.74 L595.30,143.68 L595.77,143.62 L596.25,143.56 L596.72,143.50 L597.19,143.43 L597.66,143.37 L598.14,143.30 L598.61,143.23 L599.08,143.17 L599.55,143.10 L600.03,143.03 L600.50,142.96 L600.97,142.89 L601.45,142.82 L601.92,142.75 L602.39,142.67 L602.86,142.60 L603.34,142.52 L603.81,142.45 L604.28,142.37 L604.76,142.30 L605.23,142.22 L605.70,142.14 L606.17,142.06 L606.65,141.98 L607.12,141.90 L607.59,141.82 L608.07,141.74 L608.54,141.66 L609.01,141.57 L609.48,141.49 L609.96,141.41 L610.43,141.32 L610.90,141.24 L611.38,141.15 L611.85,141.06 L612.32,140.97 L612.79,140.88 L613.27,140.80 L613.74,140.71 L614.21,140.61 L614.69,140.52 L615.16,140.43 L615.63,140.34 L616.10,140.25 L616.58,140.15 L617.05,140.06 L617.52,139.96 L617.99,139.87 L618.47,139.77 L618.94,139.67 L619.41,139.57 L619.89,139.48 L620.36,139.38 L620.83,139.28 L621.30,139.18 L621.78,139.08 L622.25,138.97 L622.72,138.87 L623.20,138.77 L623.67,138.67 L624.14,138.56 L624.61,138.46 L625.09,138.35 L625.56,138.25 L626.03,138.14 L626.51,138.03 L626.98,137.92 L627.45,137.82 L627.92,137.71 L628.40,137.60 L628.87,137.49 L629.34,137.38 L629.82,137.27 L630.29,137.15 L630.76,137.04 L631.23,136.93 L631.71,136.82 L632.18,136.70 L632.65,136.59 L633.13,136.47 L633.60,136.36 L634.07,136.24 L634.54,136.12 L635.02,136.01 L635.49,135.89 L635.96,135.77 L636.44,135.65 L636.91,135.53 L637.38,135.41 L637.85,135.29 L638.33,135.17 L638.80,135.05 L639.27,134.92 L639.74,134.80 L640.22,134.68 L640.69,134.55 L641.16,134.43 L641.64,134.30 L642.11,134.18 L642.58,134.05 L643.05,133.93 L643.53,133.80 L644.00,133.67 L644.47,133.54 L644.95,133.42 L645.42,133.29 L645.89,133.16 L646.36,133.03 L646.84,132.90 L647.31,132.76 L647.78,132.63 L648.26,132.50 L648.73,132.37 L649.20,132.23 L649.67,132.10 L650.15,131.97 L650.62,131.83 L651.09,131.70 L651.57,131.56 L652.04,131.42 L652.51,131.29 L652.98,131.15 L653.46,131.01 L653.93,130.87 L654.40,130.73 L654.88,130.59 L655.35,130.45 L655.82,130.31 L656.29,130.17 L656.77,130.03 L657.24,129.89 L657.71,129.75 L658.19,129.61 L658.66,129.46 L659.13,129.32 L659.60,129.17 L660.08,129.03 L660.55,128.88 L661.02,128.74 L661.49,128.59 L661.97,128.45 L662.44,128.30 L662.91,128.15 L663.39,128.00 L663.86,127.86 L664.33,127.71 L664.80,127.56 L665.28,127.41 L665.75,127.26 L666.22,127.11 L666.70,126.96 L667.17,126.80 L667.64,126.65 L668.11,126.50 L668.59,126.35 L669.06,126.19 L669.53,126.04 L670.01,125.88 L670.48,125.73 L670.95,125.57 L671.42,125.42 L671.90,125.26 L672.37,125.11 L672.84,124.95 L673.32,124.79 L673.79,124.63 L674.26,124.48 L674.73,124.32 L675.21,124.16 L675.68,124.00 L676.15,123.84 L676.63,123.68 L677.10,123.52 L677.57,123.35 L678.04,123.19 L678.52,123.03 L678.99,122.87 L679.46,122.70 L679.93,122.54 L680.41,122.38 L680.88,122.21 L681.35,122.05 L681.83,121.88 L682.30,121.72 L682.77,121.55 L683.24,121.38 L683.72,121.22 L684.19,121.05" stroke="#77AC30" stroke-width="3"/>
</g>
<path d="M134.5,242.6 v-6.9 M134.5,7.8 v6.9 M243.5,242.6 v-6.9 M243.5,7.8 v6.9 M353.5,242.6 v-6.9 M353.5,7.8 v6.9 M462.5,242.6 v-6.9 M462.5,7.8 v6.9 M572.5,242.6 v-6.9 M572.5,7.8 v6.9 M24.9,195.5 h6.9 M682.0,195.5 h-6.9 M24.9,148.5 h6.9 M682.0,148.5 h-6.9 M24.9,101.5 h6.9 M682.0,101.5 h-6.9 M24.9,54.5 h6.9 M682.0,54.5 h-6.9" stroke="#262626" stroke-width="1" fill="none"/>
<rect x="24.9" y="7.8" width="657.10" height="234.80" fill="none" stroke="#262626" stroke-width="1"/>
<text transform="translate(25.00,258.35) scale(.5)" text-anchor="middle">-3</text>
<text transform="translate(134.52,258.35) scale(.5)" text-anchor="middle">-2</text>
<text transform="translate(244.03,258.35) scale(.5)" text-anchor="middle">-1</text>
<text transform="translate(353.55,258.35) scale(.5)" text-anchor="middle">0</text>
<text transform="translate(463.07,258.35) scale(.5)" text-anchor="middle">1</text>
<text transform="translate(572.58,258.35) scale(.5)" text-anchor="middle">2</text>
<text transform="translate(682.10,258.35) scale(.5)" text-anchor="middle">3</text>
<text transform="translate(19.70,246.40) scale(.5)" text-anchor="end">0</text>
<text transform="translate(19.70,199.44) scale(.5)" text-anchor="end">0.5</text>
<text transform="translate(19.70,152.48) scale(.5)" text-anchor="end">1</text>
<text transform="translate(19.70,105.52) scale(.5)" text-anchor="end">1.5</text>
<text transform="translate(19.70,58.56) scale(.5)" text-anchor="end">2</text>
<text transform="translate(19.70,11.60) scale(.5)" text-anchor="end">2.5</text>
<rect x="36.4" y="18.5" width="257.10" height="70.90" fill="#fff" stroke="#262626" stroke-width="1"/>
<path d="M40.7,28.1 H85" stroke="#0072BD" stroke-width="1.5" fill="none"/>
<path d="M40.7,44.6 H85" stroke="#D95319" stroke-width="3" fill="none"/>
<path d="M40.7,61.6 H85" stroke="#A2142F" stroke-width="3" fill="none"/>
<path d="M40.7,78.7 H85" stroke="#77AC30" stroke-width="3" fill="none"/>
<text class="m i" transform="translate(89.20,31.40) scale(0.625,0.505)">f</text><text class="m" transform="translate(96.20,32.00) scale(0.550,0.545)">(</text><text class="m i" transform="translate(101.00,32.00) scale(0.540,0.495)">x</text><text class="m" transform="translate(108.00,32.00) scale(0.550,0.545)">)</text>
<text class="m i" transform="translate(89.20,47.90) scale(0.625,0.505)">f</text><text class="m" transform="translate(92.90,46.20) scale(0.300,0.530)">ˆ</text><text class="m" transform="translate(96.20,48.50) scale(0.550,0.545)">(</text><text class="m i" transform="translate(101.00,48.50) scale(0.540,0.495)">x</text><text class="m" transform="translate(108.00,48.50) scale(0.550,0.545)">)</text>
<text class="m" transform="translate(117.0,48.50) scale(.5)" textLength="52.2" lengthAdjust="spacingAndGlyphs">IDW</text>
<text class="m i" transform="translate(89.20,64.90) scale(0.625,0.505)">f</text><text class="m" transform="translate(92.90,63.20) scale(0.300,0.530)">ˆ</text><text class="m" transform="translate(96.20,65.50) scale(0.550,0.545)">(</text><text class="m i" transform="translate(101.00,65.50) scale(0.540,0.495)">x</text><text class="m" transform="translate(108.00,65.50) scale(0.550,0.545)">)</text>
<text class="m" transform="translate(117.4,65.50) scale(.5)" textLength="51.0" lengthAdjust="spacingAndGlyphs">RBF</text>
<text class="m" transform="translate(148.0,65.50) scale(.5)" textLength="74.0" lengthAdjust="spacingAndGlyphs">inverse</text>
<text class="m" transform="translate(189.5,65.50) scale(.5)" textLength="109.6" lengthAdjust="spacingAndGlyphs">quadratic,</text>
<text class="m i e" transform="translate(249.6,65.50) scale(.5)" textLength="10.6" lengthAdjust="spacingAndGlyphs">ϵ</text>
<text class="m" transform="translate(258.6,66.40) scale(.5)" textLength="18.6" lengthAdjust="spacingAndGlyphs">=</text>
<text class="m" transform="translate(271.5,65.50) scale(.5)" textLength="31.4" lengthAdjust="spacingAndGlyphs">0.5</text>
<text class="m i" transform="translate(89.20,82.00) scale(0.625,0.505)">f</text><text class="m" transform="translate(92.90,80.30) scale(0.300,0.530)">ˆ</text><text class="m" transform="translate(96.20,82.60) scale(0.550,0.545)">(</text><text class="m i" transform="translate(101.00,82.60) scale(0.540,0.495)">x</text><text class="m" transform="translate(108.00,82.60) scale(0.550,0.545)">)</text>
<text class="m" transform="translate(117.4,82.60) scale(.5)" textLength="51.0" lengthAdjust="spacingAndGlyphs">RBF</text>
<text class="m" transform="translate(148.0,82.60) scale(.5)" textLength="43.8" lengthAdjust="spacingAndGlyphs">thin</text>
<text class="m" transform="translate(174.4,82.60) scale(.5)" textLength="53.6" lengthAdjust="spacingAndGlyphs">plate</text>
<text class="m" transform="translate(205.7,82.60) scale(.5)" textLength="68.4" lengthAdjust="spacingAndGlyphs">spline,</text>
<text class="m i e" transform="translate(245.1,82.60) scale(.5)" textLength="11.0" lengthAdjust="spacingAndGlyphs">ϵ</text>
<text class="m" transform="translate(254.1,83.50) scale(.5)" textLength="18.6" lengthAdjust="spacingAndGlyphs">=</text>
<text class="m" transform="translate(267.0,82.60) scale(.5)" textLength="43.8" lengthAdjust="spacingAndGlyphs">0.01</text>
</svg></body></html>
